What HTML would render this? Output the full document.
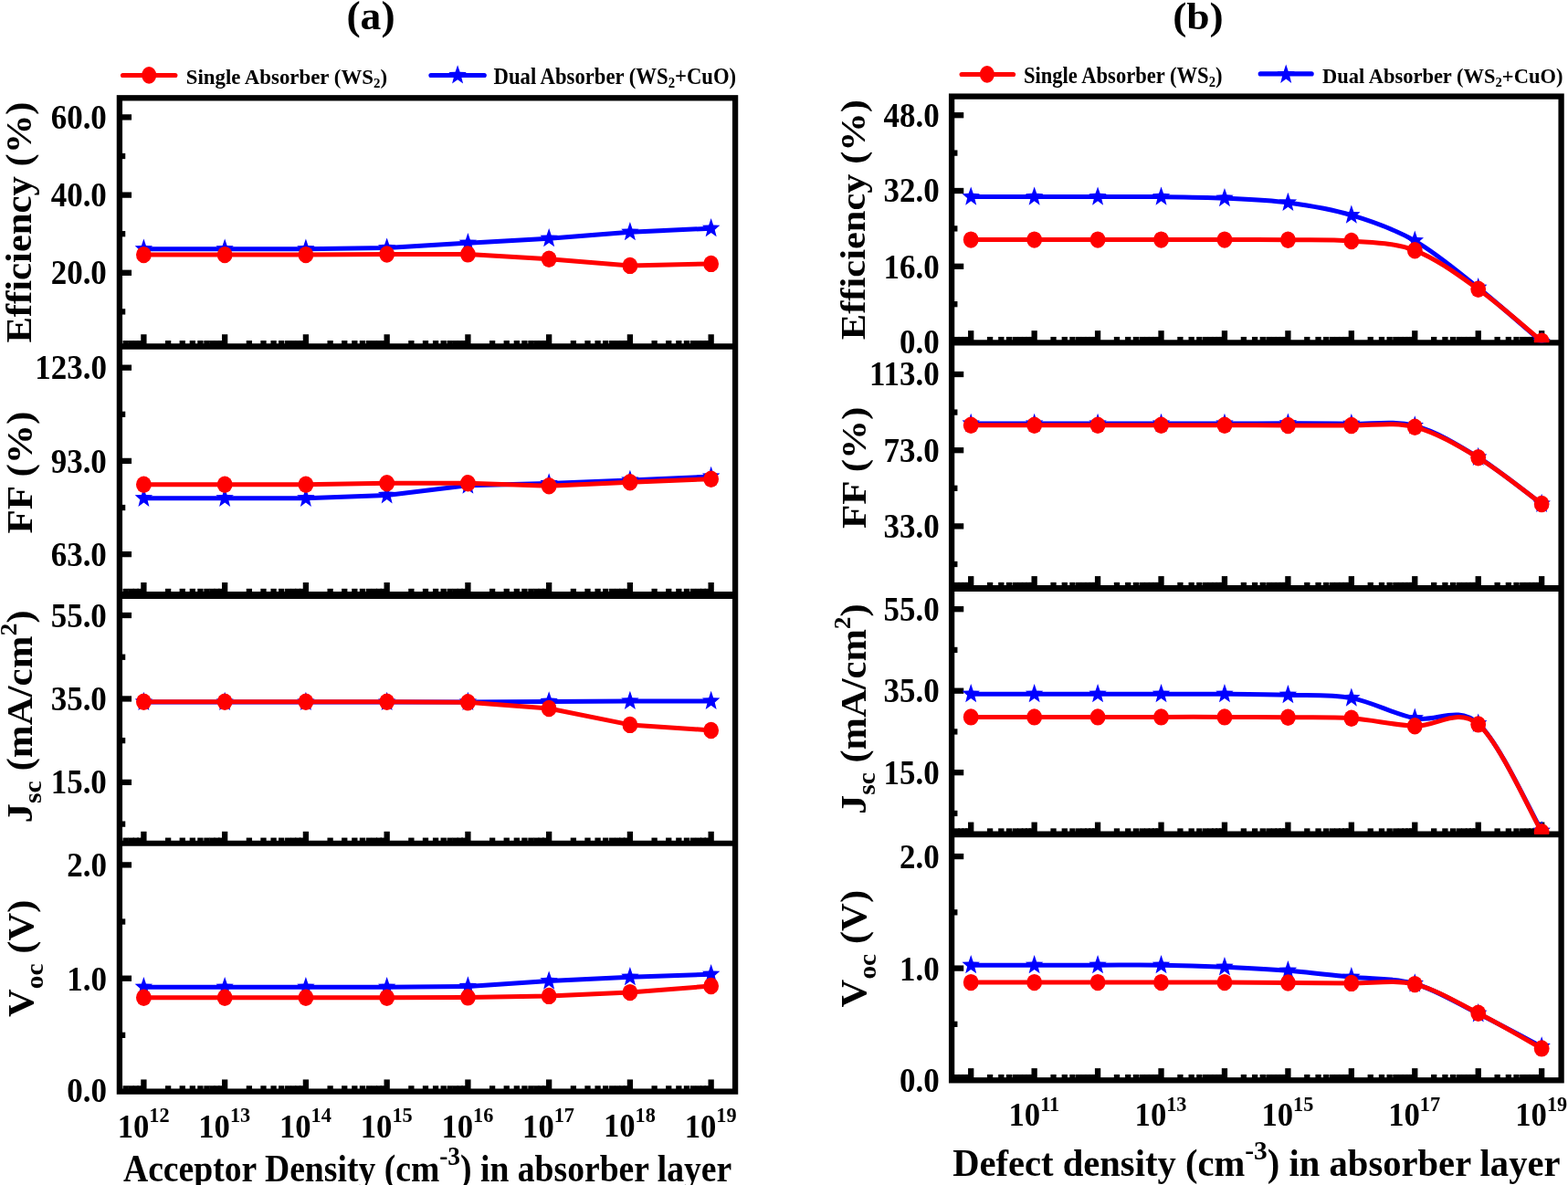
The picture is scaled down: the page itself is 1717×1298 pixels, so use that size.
<!DOCTYPE html>
<html><head><meta charset="utf-8"><title>Figure</title>
<style>
html,body{margin:0;padding:0;background:#fff;overflow:hidden;width:1717px;height:1298px;}
svg{display:block;}
text{font-family:'Liberation Serif', 'Times New Roman', serif;font-weight:bold;fill:#000;}
</style></head><body>
<svg width="1717" height="1298" viewBox="0 0 1717 1298">
<rect width="1717" height="1298" fill="#fff"/>
<g id="axes" fill="#000">
<rect x="130.90" y="107.30" width="674.20" height="1088.30" fill="none" stroke="#000" stroke-width="6.30"/>
<line x1="130.90" y1="379.50" x2="805.10" y2="379.50" stroke="#000" stroke-width="6.50"/>
<line x1="130.90" y1="652.00" x2="805.10" y2="652.00" stroke="#000" stroke-width="8.00"/>
<line x1="130.90" y1="923.80" x2="805.10" y2="923.80" stroke="#000" stroke-width="6.00"/>
<rect x="134.56" y="373.05" width="6.30" height="4.20"/>
<rect x="140.50" y="373.05" width="6.30" height="4.20"/>
<rect x="145.65" y="373.05" width="6.30" height="4.20"/>
<rect x="150.19" y="373.05" width="6.30" height="4.20"/>
<rect x="154.25" y="366.25" width="6.30" height="11.00"/>
<rect x="180.97" y="373.05" width="6.30" height="4.20"/>
<rect x="196.59" y="373.05" width="6.30" height="4.20"/>
<rect x="207.68" y="373.05" width="6.30" height="4.20"/>
<rect x="216.28" y="373.05" width="6.30" height="4.20"/>
<rect x="223.31" y="373.05" width="6.30" height="4.20"/>
<rect x="229.25" y="373.05" width="6.30" height="4.20"/>
<rect x="234.40" y="373.05" width="6.30" height="4.20"/>
<rect x="238.94" y="373.05" width="6.30" height="4.20"/>
<rect x="243.00" y="366.25" width="6.30" height="11.00"/>
<rect x="269.72" y="373.05" width="6.30" height="4.20"/>
<rect x="285.34" y="373.05" width="6.30" height="4.20"/>
<rect x="296.43" y="373.05" width="6.30" height="4.20"/>
<rect x="305.03" y="373.05" width="6.30" height="4.20"/>
<rect x="312.06" y="373.05" width="6.30" height="4.20"/>
<rect x="318.00" y="373.05" width="6.30" height="4.20"/>
<rect x="323.15" y="373.05" width="6.30" height="4.20"/>
<rect x="327.69" y="373.05" width="6.30" height="4.20"/>
<rect x="331.75" y="366.25" width="6.30" height="11.00"/>
<rect x="358.47" y="373.05" width="6.30" height="4.20"/>
<rect x="374.09" y="373.05" width="6.30" height="4.20"/>
<rect x="385.18" y="373.05" width="6.30" height="4.20"/>
<rect x="393.78" y="373.05" width="6.30" height="4.20"/>
<rect x="400.81" y="373.05" width="6.30" height="4.20"/>
<rect x="406.75" y="373.05" width="6.30" height="4.20"/>
<rect x="411.90" y="373.05" width="6.30" height="4.20"/>
<rect x="416.44" y="373.05" width="6.30" height="4.20"/>
<rect x="420.50" y="366.25" width="6.30" height="11.00"/>
<rect x="447.22" y="373.05" width="6.30" height="4.20"/>
<rect x="462.84" y="373.05" width="6.30" height="4.20"/>
<rect x="473.93" y="373.05" width="6.30" height="4.20"/>
<rect x="482.53" y="373.05" width="6.30" height="4.20"/>
<rect x="489.56" y="373.05" width="6.30" height="4.20"/>
<rect x="495.50" y="373.05" width="6.30" height="4.20"/>
<rect x="500.65" y="373.05" width="6.30" height="4.20"/>
<rect x="505.19" y="373.05" width="6.30" height="4.20"/>
<rect x="509.25" y="366.25" width="6.30" height="11.00"/>
<rect x="535.97" y="373.05" width="6.30" height="4.20"/>
<rect x="551.59" y="373.05" width="6.30" height="4.20"/>
<rect x="562.68" y="373.05" width="6.30" height="4.20"/>
<rect x="571.28" y="373.05" width="6.30" height="4.20"/>
<rect x="578.31" y="373.05" width="6.30" height="4.20"/>
<rect x="584.25" y="373.05" width="6.30" height="4.20"/>
<rect x="589.40" y="373.05" width="6.30" height="4.20"/>
<rect x="593.94" y="373.05" width="6.30" height="4.20"/>
<rect x="598.00" y="366.25" width="6.30" height="11.00"/>
<rect x="624.72" y="373.05" width="6.30" height="4.20"/>
<rect x="640.34" y="373.05" width="6.30" height="4.20"/>
<rect x="651.43" y="373.05" width="6.30" height="4.20"/>
<rect x="660.03" y="373.05" width="6.30" height="4.20"/>
<rect x="667.06" y="373.05" width="6.30" height="4.20"/>
<rect x="673.00" y="373.05" width="6.30" height="4.20"/>
<rect x="678.15" y="373.05" width="6.30" height="4.20"/>
<rect x="682.69" y="373.05" width="6.30" height="4.20"/>
<rect x="686.75" y="366.25" width="6.30" height="11.00"/>
<rect x="713.47" y="373.05" width="6.30" height="4.20"/>
<rect x="729.09" y="373.05" width="6.30" height="4.20"/>
<rect x="740.18" y="373.05" width="6.30" height="4.20"/>
<rect x="748.78" y="373.05" width="6.30" height="4.20"/>
<rect x="755.81" y="373.05" width="6.30" height="4.20"/>
<rect x="761.75" y="373.05" width="6.30" height="4.20"/>
<rect x="766.90" y="373.05" width="6.30" height="4.20"/>
<rect x="771.44" y="373.05" width="6.30" height="4.20"/>
<rect x="775.50" y="366.25" width="6.30" height="11.00"/>
<rect x="134.56" y="644.80" width="6.30" height="4.20"/>
<rect x="140.50" y="644.80" width="6.30" height="4.20"/>
<rect x="145.65" y="644.80" width="6.30" height="4.20"/>
<rect x="150.19" y="644.80" width="6.30" height="4.20"/>
<rect x="154.25" y="638.00" width="6.30" height="11.00"/>
<rect x="180.97" y="644.80" width="6.30" height="4.20"/>
<rect x="196.59" y="644.80" width="6.30" height="4.20"/>
<rect x="207.68" y="644.80" width="6.30" height="4.20"/>
<rect x="216.28" y="644.80" width="6.30" height="4.20"/>
<rect x="223.31" y="644.80" width="6.30" height="4.20"/>
<rect x="229.25" y="644.80" width="6.30" height="4.20"/>
<rect x="234.40" y="644.80" width="6.30" height="4.20"/>
<rect x="238.94" y="644.80" width="6.30" height="4.20"/>
<rect x="243.00" y="638.00" width="6.30" height="11.00"/>
<rect x="269.72" y="644.80" width="6.30" height="4.20"/>
<rect x="285.34" y="644.80" width="6.30" height="4.20"/>
<rect x="296.43" y="644.80" width="6.30" height="4.20"/>
<rect x="305.03" y="644.80" width="6.30" height="4.20"/>
<rect x="312.06" y="644.80" width="6.30" height="4.20"/>
<rect x="318.00" y="644.80" width="6.30" height="4.20"/>
<rect x="323.15" y="644.80" width="6.30" height="4.20"/>
<rect x="327.69" y="644.80" width="6.30" height="4.20"/>
<rect x="331.75" y="638.00" width="6.30" height="11.00"/>
<rect x="358.47" y="644.80" width="6.30" height="4.20"/>
<rect x="374.09" y="644.80" width="6.30" height="4.20"/>
<rect x="385.18" y="644.80" width="6.30" height="4.20"/>
<rect x="393.78" y="644.80" width="6.30" height="4.20"/>
<rect x="400.81" y="644.80" width="6.30" height="4.20"/>
<rect x="406.75" y="644.80" width="6.30" height="4.20"/>
<rect x="411.90" y="644.80" width="6.30" height="4.20"/>
<rect x="416.44" y="644.80" width="6.30" height="4.20"/>
<rect x="420.50" y="638.00" width="6.30" height="11.00"/>
<rect x="447.22" y="644.80" width="6.30" height="4.20"/>
<rect x="462.84" y="644.80" width="6.30" height="4.20"/>
<rect x="473.93" y="644.80" width="6.30" height="4.20"/>
<rect x="482.53" y="644.80" width="6.30" height="4.20"/>
<rect x="489.56" y="644.80" width="6.30" height="4.20"/>
<rect x="495.50" y="644.80" width="6.30" height="4.20"/>
<rect x="500.65" y="644.80" width="6.30" height="4.20"/>
<rect x="505.19" y="644.80" width="6.30" height="4.20"/>
<rect x="509.25" y="638.00" width="6.30" height="11.00"/>
<rect x="535.97" y="644.80" width="6.30" height="4.20"/>
<rect x="551.59" y="644.80" width="6.30" height="4.20"/>
<rect x="562.68" y="644.80" width="6.30" height="4.20"/>
<rect x="571.28" y="644.80" width="6.30" height="4.20"/>
<rect x="578.31" y="644.80" width="6.30" height="4.20"/>
<rect x="584.25" y="644.80" width="6.30" height="4.20"/>
<rect x="589.40" y="644.80" width="6.30" height="4.20"/>
<rect x="593.94" y="644.80" width="6.30" height="4.20"/>
<rect x="598.00" y="638.00" width="6.30" height="11.00"/>
<rect x="624.72" y="644.80" width="6.30" height="4.20"/>
<rect x="640.34" y="644.80" width="6.30" height="4.20"/>
<rect x="651.43" y="644.80" width="6.30" height="4.20"/>
<rect x="660.03" y="644.80" width="6.30" height="4.20"/>
<rect x="667.06" y="644.80" width="6.30" height="4.20"/>
<rect x="673.00" y="644.80" width="6.30" height="4.20"/>
<rect x="678.15" y="644.80" width="6.30" height="4.20"/>
<rect x="682.69" y="644.80" width="6.30" height="4.20"/>
<rect x="686.75" y="638.00" width="6.30" height="11.00"/>
<rect x="713.47" y="644.80" width="6.30" height="4.20"/>
<rect x="729.09" y="644.80" width="6.30" height="4.20"/>
<rect x="740.18" y="644.80" width="6.30" height="4.20"/>
<rect x="748.78" y="644.80" width="6.30" height="4.20"/>
<rect x="755.81" y="644.80" width="6.30" height="4.20"/>
<rect x="761.75" y="644.80" width="6.30" height="4.20"/>
<rect x="766.90" y="644.80" width="6.30" height="4.20"/>
<rect x="771.44" y="644.80" width="6.30" height="4.20"/>
<rect x="775.50" y="638.00" width="6.30" height="11.00"/>
<rect x="134.56" y="917.60" width="6.30" height="4.20"/>
<rect x="140.50" y="917.60" width="6.30" height="4.20"/>
<rect x="145.65" y="917.60" width="6.30" height="4.20"/>
<rect x="150.19" y="917.60" width="6.30" height="4.20"/>
<rect x="154.25" y="910.80" width="6.30" height="11.00"/>
<rect x="180.97" y="917.60" width="6.30" height="4.20"/>
<rect x="196.59" y="917.60" width="6.30" height="4.20"/>
<rect x="207.68" y="917.60" width="6.30" height="4.20"/>
<rect x="216.28" y="917.60" width="6.30" height="4.20"/>
<rect x="223.31" y="917.60" width="6.30" height="4.20"/>
<rect x="229.25" y="917.60" width="6.30" height="4.20"/>
<rect x="234.40" y="917.60" width="6.30" height="4.20"/>
<rect x="238.94" y="917.60" width="6.30" height="4.20"/>
<rect x="243.00" y="910.80" width="6.30" height="11.00"/>
<rect x="269.72" y="917.60" width="6.30" height="4.20"/>
<rect x="285.34" y="917.60" width="6.30" height="4.20"/>
<rect x="296.43" y="917.60" width="6.30" height="4.20"/>
<rect x="305.03" y="917.60" width="6.30" height="4.20"/>
<rect x="312.06" y="917.60" width="6.30" height="4.20"/>
<rect x="318.00" y="917.60" width="6.30" height="4.20"/>
<rect x="323.15" y="917.60" width="6.30" height="4.20"/>
<rect x="327.69" y="917.60" width="6.30" height="4.20"/>
<rect x="331.75" y="910.80" width="6.30" height="11.00"/>
<rect x="358.47" y="917.60" width="6.30" height="4.20"/>
<rect x="374.09" y="917.60" width="6.30" height="4.20"/>
<rect x="385.18" y="917.60" width="6.30" height="4.20"/>
<rect x="393.78" y="917.60" width="6.30" height="4.20"/>
<rect x="400.81" y="917.60" width="6.30" height="4.20"/>
<rect x="406.75" y="917.60" width="6.30" height="4.20"/>
<rect x="411.90" y="917.60" width="6.30" height="4.20"/>
<rect x="416.44" y="917.60" width="6.30" height="4.20"/>
<rect x="420.50" y="910.80" width="6.30" height="11.00"/>
<rect x="447.22" y="917.60" width="6.30" height="4.20"/>
<rect x="462.84" y="917.60" width="6.30" height="4.20"/>
<rect x="473.93" y="917.60" width="6.30" height="4.20"/>
<rect x="482.53" y="917.60" width="6.30" height="4.20"/>
<rect x="489.56" y="917.60" width="6.30" height="4.20"/>
<rect x="495.50" y="917.60" width="6.30" height="4.20"/>
<rect x="500.65" y="917.60" width="6.30" height="4.20"/>
<rect x="505.19" y="917.60" width="6.30" height="4.20"/>
<rect x="509.25" y="910.80" width="6.30" height="11.00"/>
<rect x="535.97" y="917.60" width="6.30" height="4.20"/>
<rect x="551.59" y="917.60" width="6.30" height="4.20"/>
<rect x="562.68" y="917.60" width="6.30" height="4.20"/>
<rect x="571.28" y="917.60" width="6.30" height="4.20"/>
<rect x="578.31" y="917.60" width="6.30" height="4.20"/>
<rect x="584.25" y="917.60" width="6.30" height="4.20"/>
<rect x="589.40" y="917.60" width="6.30" height="4.20"/>
<rect x="593.94" y="917.60" width="6.30" height="4.20"/>
<rect x="598.00" y="910.80" width="6.30" height="11.00"/>
<rect x="624.72" y="917.60" width="6.30" height="4.20"/>
<rect x="640.34" y="917.60" width="6.30" height="4.20"/>
<rect x="651.43" y="917.60" width="6.30" height="4.20"/>
<rect x="660.03" y="917.60" width="6.30" height="4.20"/>
<rect x="667.06" y="917.60" width="6.30" height="4.20"/>
<rect x="673.00" y="917.60" width="6.30" height="4.20"/>
<rect x="678.15" y="917.60" width="6.30" height="4.20"/>
<rect x="682.69" y="917.60" width="6.30" height="4.20"/>
<rect x="686.75" y="910.80" width="6.30" height="11.00"/>
<rect x="713.47" y="917.60" width="6.30" height="4.20"/>
<rect x="729.09" y="917.60" width="6.30" height="4.20"/>
<rect x="740.18" y="917.60" width="6.30" height="4.20"/>
<rect x="748.78" y="917.60" width="6.30" height="4.20"/>
<rect x="755.81" y="917.60" width="6.30" height="4.20"/>
<rect x="761.75" y="917.60" width="6.30" height="4.20"/>
<rect x="766.90" y="917.60" width="6.30" height="4.20"/>
<rect x="771.44" y="917.60" width="6.30" height="4.20"/>
<rect x="775.50" y="910.80" width="6.30" height="11.00"/>
<rect x="134.56" y="1189.25" width="6.30" height="4.20"/>
<rect x="140.50" y="1189.25" width="6.30" height="4.20"/>
<rect x="145.65" y="1189.25" width="6.30" height="4.20"/>
<rect x="150.19" y="1189.25" width="6.30" height="4.20"/>
<rect x="154.25" y="1182.45" width="6.30" height="11.00"/>
<rect x="180.97" y="1189.25" width="6.30" height="4.20"/>
<rect x="196.59" y="1189.25" width="6.30" height="4.20"/>
<rect x="207.68" y="1189.25" width="6.30" height="4.20"/>
<rect x="216.28" y="1189.25" width="6.30" height="4.20"/>
<rect x="223.31" y="1189.25" width="6.30" height="4.20"/>
<rect x="229.25" y="1189.25" width="6.30" height="4.20"/>
<rect x="234.40" y="1189.25" width="6.30" height="4.20"/>
<rect x="238.94" y="1189.25" width="6.30" height="4.20"/>
<rect x="243.00" y="1182.45" width="6.30" height="11.00"/>
<rect x="269.72" y="1189.25" width="6.30" height="4.20"/>
<rect x="285.34" y="1189.25" width="6.30" height="4.20"/>
<rect x="296.43" y="1189.25" width="6.30" height="4.20"/>
<rect x="305.03" y="1189.25" width="6.30" height="4.20"/>
<rect x="312.06" y="1189.25" width="6.30" height="4.20"/>
<rect x="318.00" y="1189.25" width="6.30" height="4.20"/>
<rect x="323.15" y="1189.25" width="6.30" height="4.20"/>
<rect x="327.69" y="1189.25" width="6.30" height="4.20"/>
<rect x="331.75" y="1182.45" width="6.30" height="11.00"/>
<rect x="358.47" y="1189.25" width="6.30" height="4.20"/>
<rect x="374.09" y="1189.25" width="6.30" height="4.20"/>
<rect x="385.18" y="1189.25" width="6.30" height="4.20"/>
<rect x="393.78" y="1189.25" width="6.30" height="4.20"/>
<rect x="400.81" y="1189.25" width="6.30" height="4.20"/>
<rect x="406.75" y="1189.25" width="6.30" height="4.20"/>
<rect x="411.90" y="1189.25" width="6.30" height="4.20"/>
<rect x="416.44" y="1189.25" width="6.30" height="4.20"/>
<rect x="420.50" y="1182.45" width="6.30" height="11.00"/>
<rect x="447.22" y="1189.25" width="6.30" height="4.20"/>
<rect x="462.84" y="1189.25" width="6.30" height="4.20"/>
<rect x="473.93" y="1189.25" width="6.30" height="4.20"/>
<rect x="482.53" y="1189.25" width="6.30" height="4.20"/>
<rect x="489.56" y="1189.25" width="6.30" height="4.20"/>
<rect x="495.50" y="1189.25" width="6.30" height="4.20"/>
<rect x="500.65" y="1189.25" width="6.30" height="4.20"/>
<rect x="505.19" y="1189.25" width="6.30" height="4.20"/>
<rect x="509.25" y="1182.45" width="6.30" height="11.00"/>
<rect x="535.97" y="1189.25" width="6.30" height="4.20"/>
<rect x="551.59" y="1189.25" width="6.30" height="4.20"/>
<rect x="562.68" y="1189.25" width="6.30" height="4.20"/>
<rect x="571.28" y="1189.25" width="6.30" height="4.20"/>
<rect x="578.31" y="1189.25" width="6.30" height="4.20"/>
<rect x="584.25" y="1189.25" width="6.30" height="4.20"/>
<rect x="589.40" y="1189.25" width="6.30" height="4.20"/>
<rect x="593.94" y="1189.25" width="6.30" height="4.20"/>
<rect x="598.00" y="1182.45" width="6.30" height="11.00"/>
<rect x="624.72" y="1189.25" width="6.30" height="4.20"/>
<rect x="640.34" y="1189.25" width="6.30" height="4.20"/>
<rect x="651.43" y="1189.25" width="6.30" height="4.20"/>
<rect x="660.03" y="1189.25" width="6.30" height="4.20"/>
<rect x="667.06" y="1189.25" width="6.30" height="4.20"/>
<rect x="673.00" y="1189.25" width="6.30" height="4.20"/>
<rect x="678.15" y="1189.25" width="6.30" height="4.20"/>
<rect x="682.69" y="1189.25" width="6.30" height="4.20"/>
<rect x="686.75" y="1182.45" width="6.30" height="11.00"/>
<rect x="713.47" y="1189.25" width="6.30" height="4.20"/>
<rect x="729.09" y="1189.25" width="6.30" height="4.20"/>
<rect x="740.18" y="1189.25" width="6.30" height="4.20"/>
<rect x="748.78" y="1189.25" width="6.30" height="4.20"/>
<rect x="755.81" y="1189.25" width="6.30" height="4.20"/>
<rect x="761.75" y="1189.25" width="6.30" height="4.20"/>
<rect x="766.90" y="1189.25" width="6.30" height="4.20"/>
<rect x="771.44" y="1189.25" width="6.30" height="4.20"/>
<rect x="775.50" y="1182.45" width="6.30" height="11.00"/>
<rect x="133.05" y="125.25" width="11.00" height="6.30"/>
<rect x="133.05" y="210.45" width="11.00" height="6.30"/>
<rect x="133.05" y="295.65" width="11.00" height="6.30"/>
<rect x="133.05" y="167.85" width="4.20" height="6.30"/>
<rect x="133.05" y="253.05" width="4.20" height="6.30"/>
<rect x="133.05" y="338.25" width="4.20" height="6.30"/>
<rect x="133.05" y="399.55" width="11.00" height="6.30"/>
<rect x="133.05" y="501.76" width="11.00" height="6.30"/>
<rect x="133.05" y="603.97" width="11.00" height="6.30"/>
<rect x="133.05" y="450.66" width="4.20" height="6.30"/>
<rect x="133.05" y="552.87" width="4.20" height="6.30"/>
<rect x="133.05" y="670.85" width="11.00" height="6.30"/>
<rect x="133.05" y="762.30" width="11.00" height="6.30"/>
<rect x="133.05" y="853.75" width="11.00" height="6.30"/>
<rect x="133.05" y="716.58" width="4.20" height="6.30"/>
<rect x="133.05" y="808.02" width="4.20" height="6.30"/>
<rect x="133.05" y="899.48" width="4.20" height="6.30"/>
<rect x="133.05" y="944.25" width="11.00" height="6.30"/>
<rect x="133.05" y="1068.55" width="11.00" height="6.30"/>
<rect x="133.05" y="1006.40" width="4.20" height="6.30"/>
<rect x="133.05" y="1130.70" width="4.20" height="6.30"/>
<rect x="1042.10" y="105.60" width="667.50" height="1077.70" fill="none" stroke="#000" stroke-width="6.30"/>
<line x1="1042.10" y1="375.30" x2="1709.60" y2="375.30" stroke="#000" stroke-width="6.30"/>
<line x1="1042.10" y1="644.50" x2="1709.60" y2="644.50" stroke="#000" stroke-width="6.80"/>
<line x1="1042.10" y1="913.90" x2="1709.60" y2="913.90" stroke="#000" stroke-width="6.70"/>
<rect x="1044.64" y="368.95" width="6.30" height="4.20"/>
<rect x="1049.29" y="368.95" width="6.30" height="4.20"/>
<rect x="1053.32" y="368.95" width="6.30" height="4.20"/>
<rect x="1056.87" y="368.95" width="6.30" height="4.20"/>
<rect x="1060.05" y="362.15" width="6.30" height="11.00"/>
<rect x="1080.95" y="368.95" width="6.30" height="4.20"/>
<rect x="1093.18" y="368.95" width="6.30" height="4.20"/>
<rect x="1101.86" y="368.95" width="6.30" height="4.20"/>
<rect x="1108.59" y="368.95" width="6.30" height="4.20"/>
<rect x="1114.08" y="368.95" width="6.30" height="4.20"/>
<rect x="1118.73" y="368.95" width="6.30" height="4.20"/>
<rect x="1122.76" y="368.95" width="6.30" height="4.20"/>
<rect x="1126.31" y="368.95" width="6.30" height="4.20"/>
<rect x="1129.49" y="362.15" width="6.30" height="11.00"/>
<rect x="1150.39" y="368.95" width="6.30" height="4.20"/>
<rect x="1162.62" y="368.95" width="6.30" height="4.20"/>
<rect x="1171.30" y="368.95" width="6.30" height="4.20"/>
<rect x="1178.03" y="368.95" width="6.30" height="4.20"/>
<rect x="1183.52" y="368.95" width="6.30" height="4.20"/>
<rect x="1188.17" y="368.95" width="6.30" height="4.20"/>
<rect x="1192.20" y="368.95" width="6.30" height="4.20"/>
<rect x="1195.75" y="368.95" width="6.30" height="4.20"/>
<rect x="1198.93" y="362.15" width="6.30" height="11.00"/>
<rect x="1219.83" y="368.95" width="6.30" height="4.20"/>
<rect x="1232.06" y="368.95" width="6.30" height="4.20"/>
<rect x="1240.74" y="368.95" width="6.30" height="4.20"/>
<rect x="1247.47" y="368.95" width="6.30" height="4.20"/>
<rect x="1252.96" y="368.95" width="6.30" height="4.20"/>
<rect x="1257.61" y="368.95" width="6.30" height="4.20"/>
<rect x="1261.64" y="368.95" width="6.30" height="4.20"/>
<rect x="1265.19" y="368.95" width="6.30" height="4.20"/>
<rect x="1268.37" y="362.15" width="6.30" height="11.00"/>
<rect x="1289.27" y="368.95" width="6.30" height="4.20"/>
<rect x="1301.50" y="368.95" width="6.30" height="4.20"/>
<rect x="1310.18" y="368.95" width="6.30" height="4.20"/>
<rect x="1316.91" y="368.95" width="6.30" height="4.20"/>
<rect x="1322.40" y="368.95" width="6.30" height="4.20"/>
<rect x="1327.05" y="368.95" width="6.30" height="4.20"/>
<rect x="1331.08" y="368.95" width="6.30" height="4.20"/>
<rect x="1334.63" y="368.95" width="6.30" height="4.20"/>
<rect x="1337.81" y="362.15" width="6.30" height="11.00"/>
<rect x="1358.71" y="368.95" width="6.30" height="4.20"/>
<rect x="1370.94" y="368.95" width="6.30" height="4.20"/>
<rect x="1379.62" y="368.95" width="6.30" height="4.20"/>
<rect x="1386.35" y="368.95" width="6.30" height="4.20"/>
<rect x="1391.84" y="368.95" width="6.30" height="4.20"/>
<rect x="1396.49" y="368.95" width="6.30" height="4.20"/>
<rect x="1400.52" y="368.95" width="6.30" height="4.20"/>
<rect x="1404.07" y="368.95" width="6.30" height="4.20"/>
<rect x="1407.25" y="362.15" width="6.30" height="11.00"/>
<rect x="1428.15" y="368.95" width="6.30" height="4.20"/>
<rect x="1440.38" y="368.95" width="6.30" height="4.20"/>
<rect x="1449.06" y="368.95" width="6.30" height="4.20"/>
<rect x="1455.79" y="368.95" width="6.30" height="4.20"/>
<rect x="1461.28" y="368.95" width="6.30" height="4.20"/>
<rect x="1465.93" y="368.95" width="6.30" height="4.20"/>
<rect x="1469.96" y="368.95" width="6.30" height="4.20"/>
<rect x="1473.51" y="368.95" width="6.30" height="4.20"/>
<rect x="1476.69" y="362.15" width="6.30" height="11.00"/>
<rect x="1497.59" y="368.95" width="6.30" height="4.20"/>
<rect x="1509.82" y="368.95" width="6.30" height="4.20"/>
<rect x="1518.50" y="368.95" width="6.30" height="4.20"/>
<rect x="1525.23" y="368.95" width="6.30" height="4.20"/>
<rect x="1530.72" y="368.95" width="6.30" height="4.20"/>
<rect x="1535.37" y="368.95" width="6.30" height="4.20"/>
<rect x="1539.40" y="368.95" width="6.30" height="4.20"/>
<rect x="1542.95" y="368.95" width="6.30" height="4.20"/>
<rect x="1546.13" y="362.15" width="6.30" height="11.00"/>
<rect x="1567.03" y="368.95" width="6.30" height="4.20"/>
<rect x="1579.26" y="368.95" width="6.30" height="4.20"/>
<rect x="1587.94" y="368.95" width="6.30" height="4.20"/>
<rect x="1594.67" y="368.95" width="6.30" height="4.20"/>
<rect x="1600.16" y="368.95" width="6.30" height="4.20"/>
<rect x="1604.81" y="368.95" width="6.30" height="4.20"/>
<rect x="1608.84" y="368.95" width="6.30" height="4.20"/>
<rect x="1612.39" y="368.95" width="6.30" height="4.20"/>
<rect x="1615.57" y="362.15" width="6.30" height="11.00"/>
<rect x="1636.47" y="368.95" width="6.30" height="4.20"/>
<rect x="1648.70" y="368.95" width="6.30" height="4.20"/>
<rect x="1657.38" y="368.95" width="6.30" height="4.20"/>
<rect x="1664.11" y="368.95" width="6.30" height="4.20"/>
<rect x="1669.60" y="368.95" width="6.30" height="4.20"/>
<rect x="1674.25" y="368.95" width="6.30" height="4.20"/>
<rect x="1678.28" y="368.95" width="6.30" height="4.20"/>
<rect x="1681.83" y="368.95" width="6.30" height="4.20"/>
<rect x="1685.01" y="362.15" width="6.30" height="11.00"/>
<rect x="1044.64" y="637.90" width="6.30" height="4.20"/>
<rect x="1049.29" y="637.90" width="6.30" height="4.20"/>
<rect x="1053.32" y="637.90" width="6.30" height="4.20"/>
<rect x="1056.87" y="637.90" width="6.30" height="4.20"/>
<rect x="1060.05" y="631.10" width="6.30" height="11.00"/>
<rect x="1080.95" y="637.90" width="6.30" height="4.20"/>
<rect x="1093.18" y="637.90" width="6.30" height="4.20"/>
<rect x="1101.86" y="637.90" width="6.30" height="4.20"/>
<rect x="1108.59" y="637.90" width="6.30" height="4.20"/>
<rect x="1114.08" y="637.90" width="6.30" height="4.20"/>
<rect x="1118.73" y="637.90" width="6.30" height="4.20"/>
<rect x="1122.76" y="637.90" width="6.30" height="4.20"/>
<rect x="1126.31" y="637.90" width="6.30" height="4.20"/>
<rect x="1129.49" y="631.10" width="6.30" height="11.00"/>
<rect x="1150.39" y="637.90" width="6.30" height="4.20"/>
<rect x="1162.62" y="637.90" width="6.30" height="4.20"/>
<rect x="1171.30" y="637.90" width="6.30" height="4.20"/>
<rect x="1178.03" y="637.90" width="6.30" height="4.20"/>
<rect x="1183.52" y="637.90" width="6.30" height="4.20"/>
<rect x="1188.17" y="637.90" width="6.30" height="4.20"/>
<rect x="1192.20" y="637.90" width="6.30" height="4.20"/>
<rect x="1195.75" y="637.90" width="6.30" height="4.20"/>
<rect x="1198.93" y="631.10" width="6.30" height="11.00"/>
<rect x="1219.83" y="637.90" width="6.30" height="4.20"/>
<rect x="1232.06" y="637.90" width="6.30" height="4.20"/>
<rect x="1240.74" y="637.90" width="6.30" height="4.20"/>
<rect x="1247.47" y="637.90" width="6.30" height="4.20"/>
<rect x="1252.96" y="637.90" width="6.30" height="4.20"/>
<rect x="1257.61" y="637.90" width="6.30" height="4.20"/>
<rect x="1261.64" y="637.90" width="6.30" height="4.20"/>
<rect x="1265.19" y="637.90" width="6.30" height="4.20"/>
<rect x="1268.37" y="631.10" width="6.30" height="11.00"/>
<rect x="1289.27" y="637.90" width="6.30" height="4.20"/>
<rect x="1301.50" y="637.90" width="6.30" height="4.20"/>
<rect x="1310.18" y="637.90" width="6.30" height="4.20"/>
<rect x="1316.91" y="637.90" width="6.30" height="4.20"/>
<rect x="1322.40" y="637.90" width="6.30" height="4.20"/>
<rect x="1327.05" y="637.90" width="6.30" height="4.20"/>
<rect x="1331.08" y="637.90" width="6.30" height="4.20"/>
<rect x="1334.63" y="637.90" width="6.30" height="4.20"/>
<rect x="1337.81" y="631.10" width="6.30" height="11.00"/>
<rect x="1358.71" y="637.90" width="6.30" height="4.20"/>
<rect x="1370.94" y="637.90" width="6.30" height="4.20"/>
<rect x="1379.62" y="637.90" width="6.30" height="4.20"/>
<rect x="1386.35" y="637.90" width="6.30" height="4.20"/>
<rect x="1391.84" y="637.90" width="6.30" height="4.20"/>
<rect x="1396.49" y="637.90" width="6.30" height="4.20"/>
<rect x="1400.52" y="637.90" width="6.30" height="4.20"/>
<rect x="1404.07" y="637.90" width="6.30" height="4.20"/>
<rect x="1407.25" y="631.10" width="6.30" height="11.00"/>
<rect x="1428.15" y="637.90" width="6.30" height="4.20"/>
<rect x="1440.38" y="637.90" width="6.30" height="4.20"/>
<rect x="1449.06" y="637.90" width="6.30" height="4.20"/>
<rect x="1455.79" y="637.90" width="6.30" height="4.20"/>
<rect x="1461.28" y="637.90" width="6.30" height="4.20"/>
<rect x="1465.93" y="637.90" width="6.30" height="4.20"/>
<rect x="1469.96" y="637.90" width="6.30" height="4.20"/>
<rect x="1473.51" y="637.90" width="6.30" height="4.20"/>
<rect x="1476.69" y="631.10" width="6.30" height="11.00"/>
<rect x="1497.59" y="637.90" width="6.30" height="4.20"/>
<rect x="1509.82" y="637.90" width="6.30" height="4.20"/>
<rect x="1518.50" y="637.90" width="6.30" height="4.20"/>
<rect x="1525.23" y="637.90" width="6.30" height="4.20"/>
<rect x="1530.72" y="637.90" width="6.30" height="4.20"/>
<rect x="1535.37" y="637.90" width="6.30" height="4.20"/>
<rect x="1539.40" y="637.90" width="6.30" height="4.20"/>
<rect x="1542.95" y="637.90" width="6.30" height="4.20"/>
<rect x="1546.13" y="631.10" width="6.30" height="11.00"/>
<rect x="1567.03" y="637.90" width="6.30" height="4.20"/>
<rect x="1579.26" y="637.90" width="6.30" height="4.20"/>
<rect x="1587.94" y="637.90" width="6.30" height="4.20"/>
<rect x="1594.67" y="637.90" width="6.30" height="4.20"/>
<rect x="1600.16" y="637.90" width="6.30" height="4.20"/>
<rect x="1604.81" y="637.90" width="6.30" height="4.20"/>
<rect x="1608.84" y="637.90" width="6.30" height="4.20"/>
<rect x="1612.39" y="637.90" width="6.30" height="4.20"/>
<rect x="1615.57" y="631.10" width="6.30" height="11.00"/>
<rect x="1636.47" y="637.90" width="6.30" height="4.20"/>
<rect x="1648.70" y="637.90" width="6.30" height="4.20"/>
<rect x="1657.38" y="637.90" width="6.30" height="4.20"/>
<rect x="1664.11" y="637.90" width="6.30" height="4.20"/>
<rect x="1669.60" y="637.90" width="6.30" height="4.20"/>
<rect x="1674.25" y="637.90" width="6.30" height="4.20"/>
<rect x="1678.28" y="637.90" width="6.30" height="4.20"/>
<rect x="1681.83" y="637.90" width="6.30" height="4.20"/>
<rect x="1685.01" y="631.10" width="6.30" height="11.00"/>
<rect x="1044.64" y="907.35" width="6.30" height="4.20"/>
<rect x="1049.29" y="907.35" width="6.30" height="4.20"/>
<rect x="1053.32" y="907.35" width="6.30" height="4.20"/>
<rect x="1056.87" y="907.35" width="6.30" height="4.20"/>
<rect x="1060.05" y="900.55" width="6.30" height="11.00"/>
<rect x="1080.95" y="907.35" width="6.30" height="4.20"/>
<rect x="1093.18" y="907.35" width="6.30" height="4.20"/>
<rect x="1101.86" y="907.35" width="6.30" height="4.20"/>
<rect x="1108.59" y="907.35" width="6.30" height="4.20"/>
<rect x="1114.08" y="907.35" width="6.30" height="4.20"/>
<rect x="1118.73" y="907.35" width="6.30" height="4.20"/>
<rect x="1122.76" y="907.35" width="6.30" height="4.20"/>
<rect x="1126.31" y="907.35" width="6.30" height="4.20"/>
<rect x="1129.49" y="900.55" width="6.30" height="11.00"/>
<rect x="1150.39" y="907.35" width="6.30" height="4.20"/>
<rect x="1162.62" y="907.35" width="6.30" height="4.20"/>
<rect x="1171.30" y="907.35" width="6.30" height="4.20"/>
<rect x="1178.03" y="907.35" width="6.30" height="4.20"/>
<rect x="1183.52" y="907.35" width="6.30" height="4.20"/>
<rect x="1188.17" y="907.35" width="6.30" height="4.20"/>
<rect x="1192.20" y="907.35" width="6.30" height="4.20"/>
<rect x="1195.75" y="907.35" width="6.30" height="4.20"/>
<rect x="1198.93" y="900.55" width="6.30" height="11.00"/>
<rect x="1219.83" y="907.35" width="6.30" height="4.20"/>
<rect x="1232.06" y="907.35" width="6.30" height="4.20"/>
<rect x="1240.74" y="907.35" width="6.30" height="4.20"/>
<rect x="1247.47" y="907.35" width="6.30" height="4.20"/>
<rect x="1252.96" y="907.35" width="6.30" height="4.20"/>
<rect x="1257.61" y="907.35" width="6.30" height="4.20"/>
<rect x="1261.64" y="907.35" width="6.30" height="4.20"/>
<rect x="1265.19" y="907.35" width="6.30" height="4.20"/>
<rect x="1268.37" y="900.55" width="6.30" height="11.00"/>
<rect x="1289.27" y="907.35" width="6.30" height="4.20"/>
<rect x="1301.50" y="907.35" width="6.30" height="4.20"/>
<rect x="1310.18" y="907.35" width="6.30" height="4.20"/>
<rect x="1316.91" y="907.35" width="6.30" height="4.20"/>
<rect x="1322.40" y="907.35" width="6.30" height="4.20"/>
<rect x="1327.05" y="907.35" width="6.30" height="4.20"/>
<rect x="1331.08" y="907.35" width="6.30" height="4.20"/>
<rect x="1334.63" y="907.35" width="6.30" height="4.20"/>
<rect x="1337.81" y="900.55" width="6.30" height="11.00"/>
<rect x="1358.71" y="907.35" width="6.30" height="4.20"/>
<rect x="1370.94" y="907.35" width="6.30" height="4.20"/>
<rect x="1379.62" y="907.35" width="6.30" height="4.20"/>
<rect x="1386.35" y="907.35" width="6.30" height="4.20"/>
<rect x="1391.84" y="907.35" width="6.30" height="4.20"/>
<rect x="1396.49" y="907.35" width="6.30" height="4.20"/>
<rect x="1400.52" y="907.35" width="6.30" height="4.20"/>
<rect x="1404.07" y="907.35" width="6.30" height="4.20"/>
<rect x="1407.25" y="900.55" width="6.30" height="11.00"/>
<rect x="1428.15" y="907.35" width="6.30" height="4.20"/>
<rect x="1440.38" y="907.35" width="6.30" height="4.20"/>
<rect x="1449.06" y="907.35" width="6.30" height="4.20"/>
<rect x="1455.79" y="907.35" width="6.30" height="4.20"/>
<rect x="1461.28" y="907.35" width="6.30" height="4.20"/>
<rect x="1465.93" y="907.35" width="6.30" height="4.20"/>
<rect x="1469.96" y="907.35" width="6.30" height="4.20"/>
<rect x="1473.51" y="907.35" width="6.30" height="4.20"/>
<rect x="1476.69" y="900.55" width="6.30" height="11.00"/>
<rect x="1497.59" y="907.35" width="6.30" height="4.20"/>
<rect x="1509.82" y="907.35" width="6.30" height="4.20"/>
<rect x="1518.50" y="907.35" width="6.30" height="4.20"/>
<rect x="1525.23" y="907.35" width="6.30" height="4.20"/>
<rect x="1530.72" y="907.35" width="6.30" height="4.20"/>
<rect x="1535.37" y="907.35" width="6.30" height="4.20"/>
<rect x="1539.40" y="907.35" width="6.30" height="4.20"/>
<rect x="1542.95" y="907.35" width="6.30" height="4.20"/>
<rect x="1546.13" y="900.55" width="6.30" height="11.00"/>
<rect x="1567.03" y="907.35" width="6.30" height="4.20"/>
<rect x="1579.26" y="907.35" width="6.30" height="4.20"/>
<rect x="1587.94" y="907.35" width="6.30" height="4.20"/>
<rect x="1594.67" y="907.35" width="6.30" height="4.20"/>
<rect x="1600.16" y="907.35" width="6.30" height="4.20"/>
<rect x="1604.81" y="907.35" width="6.30" height="4.20"/>
<rect x="1608.84" y="907.35" width="6.30" height="4.20"/>
<rect x="1612.39" y="907.35" width="6.30" height="4.20"/>
<rect x="1615.57" y="900.55" width="6.30" height="11.00"/>
<rect x="1636.47" y="907.35" width="6.30" height="4.20"/>
<rect x="1648.70" y="907.35" width="6.30" height="4.20"/>
<rect x="1657.38" y="907.35" width="6.30" height="4.20"/>
<rect x="1664.11" y="907.35" width="6.30" height="4.20"/>
<rect x="1669.60" y="907.35" width="6.30" height="4.20"/>
<rect x="1674.25" y="907.35" width="6.30" height="4.20"/>
<rect x="1678.28" y="907.35" width="6.30" height="4.20"/>
<rect x="1681.83" y="907.35" width="6.30" height="4.20"/>
<rect x="1685.01" y="900.55" width="6.30" height="11.00"/>
<rect x="1044.64" y="1176.95" width="6.30" height="4.20"/>
<rect x="1049.29" y="1176.95" width="6.30" height="4.20"/>
<rect x="1053.32" y="1176.95" width="6.30" height="4.20"/>
<rect x="1056.87" y="1176.95" width="6.30" height="4.20"/>
<rect x="1060.05" y="1170.15" width="6.30" height="11.00"/>
<rect x="1080.95" y="1176.95" width="6.30" height="4.20"/>
<rect x="1093.18" y="1176.95" width="6.30" height="4.20"/>
<rect x="1101.86" y="1176.95" width="6.30" height="4.20"/>
<rect x="1108.59" y="1176.95" width="6.30" height="4.20"/>
<rect x="1114.08" y="1176.95" width="6.30" height="4.20"/>
<rect x="1118.73" y="1176.95" width="6.30" height="4.20"/>
<rect x="1122.76" y="1176.95" width="6.30" height="4.20"/>
<rect x="1126.31" y="1176.95" width="6.30" height="4.20"/>
<rect x="1129.49" y="1170.15" width="6.30" height="11.00"/>
<rect x="1150.39" y="1176.95" width="6.30" height="4.20"/>
<rect x="1162.62" y="1176.95" width="6.30" height="4.20"/>
<rect x="1171.30" y="1176.95" width="6.30" height="4.20"/>
<rect x="1178.03" y="1176.95" width="6.30" height="4.20"/>
<rect x="1183.52" y="1176.95" width="6.30" height="4.20"/>
<rect x="1188.17" y="1176.95" width="6.30" height="4.20"/>
<rect x="1192.20" y="1176.95" width="6.30" height="4.20"/>
<rect x="1195.75" y="1176.95" width="6.30" height="4.20"/>
<rect x="1198.93" y="1170.15" width="6.30" height="11.00"/>
<rect x="1219.83" y="1176.95" width="6.30" height="4.20"/>
<rect x="1232.06" y="1176.95" width="6.30" height="4.20"/>
<rect x="1240.74" y="1176.95" width="6.30" height="4.20"/>
<rect x="1247.47" y="1176.95" width="6.30" height="4.20"/>
<rect x="1252.96" y="1176.95" width="6.30" height="4.20"/>
<rect x="1257.61" y="1176.95" width="6.30" height="4.20"/>
<rect x="1261.64" y="1176.95" width="6.30" height="4.20"/>
<rect x="1265.19" y="1176.95" width="6.30" height="4.20"/>
<rect x="1268.37" y="1170.15" width="6.30" height="11.00"/>
<rect x="1289.27" y="1176.95" width="6.30" height="4.20"/>
<rect x="1301.50" y="1176.95" width="6.30" height="4.20"/>
<rect x="1310.18" y="1176.95" width="6.30" height="4.20"/>
<rect x="1316.91" y="1176.95" width="6.30" height="4.20"/>
<rect x="1322.40" y="1176.95" width="6.30" height="4.20"/>
<rect x="1327.05" y="1176.95" width="6.30" height="4.20"/>
<rect x="1331.08" y="1176.95" width="6.30" height="4.20"/>
<rect x="1334.63" y="1176.95" width="6.30" height="4.20"/>
<rect x="1337.81" y="1170.15" width="6.30" height="11.00"/>
<rect x="1358.71" y="1176.95" width="6.30" height="4.20"/>
<rect x="1370.94" y="1176.95" width="6.30" height="4.20"/>
<rect x="1379.62" y="1176.95" width="6.30" height="4.20"/>
<rect x="1386.35" y="1176.95" width="6.30" height="4.20"/>
<rect x="1391.84" y="1176.95" width="6.30" height="4.20"/>
<rect x="1396.49" y="1176.95" width="6.30" height="4.20"/>
<rect x="1400.52" y="1176.95" width="6.30" height="4.20"/>
<rect x="1404.07" y="1176.95" width="6.30" height="4.20"/>
<rect x="1407.25" y="1170.15" width="6.30" height="11.00"/>
<rect x="1428.15" y="1176.95" width="6.30" height="4.20"/>
<rect x="1440.38" y="1176.95" width="6.30" height="4.20"/>
<rect x="1449.06" y="1176.95" width="6.30" height="4.20"/>
<rect x="1455.79" y="1176.95" width="6.30" height="4.20"/>
<rect x="1461.28" y="1176.95" width="6.30" height="4.20"/>
<rect x="1465.93" y="1176.95" width="6.30" height="4.20"/>
<rect x="1469.96" y="1176.95" width="6.30" height="4.20"/>
<rect x="1473.51" y="1176.95" width="6.30" height="4.20"/>
<rect x="1476.69" y="1170.15" width="6.30" height="11.00"/>
<rect x="1497.59" y="1176.95" width="6.30" height="4.20"/>
<rect x="1509.82" y="1176.95" width="6.30" height="4.20"/>
<rect x="1518.50" y="1176.95" width="6.30" height="4.20"/>
<rect x="1525.23" y="1176.95" width="6.30" height="4.20"/>
<rect x="1530.72" y="1176.95" width="6.30" height="4.20"/>
<rect x="1535.37" y="1176.95" width="6.30" height="4.20"/>
<rect x="1539.40" y="1176.95" width="6.30" height="4.20"/>
<rect x="1542.95" y="1176.95" width="6.30" height="4.20"/>
<rect x="1546.13" y="1170.15" width="6.30" height="11.00"/>
<rect x="1567.03" y="1176.95" width="6.30" height="4.20"/>
<rect x="1579.26" y="1176.95" width="6.30" height="4.20"/>
<rect x="1587.94" y="1176.95" width="6.30" height="4.20"/>
<rect x="1594.67" y="1176.95" width="6.30" height="4.20"/>
<rect x="1600.16" y="1176.95" width="6.30" height="4.20"/>
<rect x="1604.81" y="1176.95" width="6.30" height="4.20"/>
<rect x="1608.84" y="1176.95" width="6.30" height="4.20"/>
<rect x="1612.39" y="1176.95" width="6.30" height="4.20"/>
<rect x="1615.57" y="1170.15" width="6.30" height="11.00"/>
<rect x="1636.47" y="1176.95" width="6.30" height="4.20"/>
<rect x="1648.70" y="1176.95" width="6.30" height="4.20"/>
<rect x="1657.38" y="1176.95" width="6.30" height="4.20"/>
<rect x="1664.11" y="1176.95" width="6.30" height="4.20"/>
<rect x="1669.60" y="1176.95" width="6.30" height="4.20"/>
<rect x="1674.25" y="1176.95" width="6.30" height="4.20"/>
<rect x="1678.28" y="1176.95" width="6.30" height="4.20"/>
<rect x="1681.83" y="1176.95" width="6.30" height="4.20"/>
<rect x="1685.01" y="1170.15" width="6.30" height="11.00"/>
<rect x="1044.25" y="123.05" width="11.00" height="6.30"/>
<rect x="1044.25" y="205.85" width="11.00" height="6.30"/>
<rect x="1044.25" y="288.65" width="11.00" height="6.30"/>
<rect x="1044.25" y="164.45" width="4.20" height="6.30"/>
<rect x="1044.25" y="247.25" width="4.20" height="6.30"/>
<rect x="1044.25" y="330.05" width="4.20" height="6.30"/>
<rect x="1044.25" y="406.85" width="11.00" height="6.30"/>
<rect x="1044.25" y="490.05" width="11.00" height="6.30"/>
<rect x="1044.25" y="573.25" width="11.00" height="6.30"/>
<rect x="1044.25" y="448.45" width="4.20" height="6.30"/>
<rect x="1044.25" y="531.65" width="4.20" height="6.30"/>
<rect x="1044.25" y="614.85" width="4.20" height="6.30"/>
<rect x="1044.25" y="664.05" width="11.00" height="6.30"/>
<rect x="1044.25" y="753.55" width="11.00" height="6.30"/>
<rect x="1044.25" y="843.05" width="11.00" height="6.30"/>
<rect x="1044.25" y="708.80" width="4.20" height="6.30"/>
<rect x="1044.25" y="798.30" width="4.20" height="6.30"/>
<rect x="1044.25" y="887.80" width="4.20" height="6.30"/>
<rect x="1044.25" y="934.95" width="11.00" height="6.30"/>
<rect x="1044.25" y="1057.45" width="11.00" height="6.30"/>
<rect x="1044.25" y="996.20" width="4.20" height="6.30"/>
<rect x="1044.25" y="1118.70" width="4.20" height="6.30"/>
</g>
<g id="data">
<clipPath id="cL0"><rect x="130.90" y="107.30" width="674.20" height="272.20"/></clipPath>
<g clip-path="url(#cL0)">
<path d="M157.40,272.70 L246.15,272.70 L334.90,272.70 L423.65,271.60 L512.40,266.20 L601.15,261.20 L689.90,254.20 L778.65,250.20" fill="none" stroke="#0000FF" stroke-width="5.0" stroke-linejoin="round" stroke-linecap="round"/>
<polygon points="157.40,261.48 159.92,268.89 167.10,269.23 161.47,274.16 163.40,281.78 157.40,277.41 151.40,281.78 153.33,274.16 147.70,269.23 154.88,268.89" fill="#0000FF"/>
<polygon points="246.15,261.48 248.67,268.89 255.85,269.23 250.22,274.16 252.15,281.78 246.15,277.41 240.15,281.78 242.08,274.16 236.45,269.23 243.63,268.89" fill="#0000FF"/>
<polygon points="334.90,261.48 337.42,268.89 344.60,269.23 338.97,274.16 340.90,281.78 334.90,277.41 328.90,281.78 330.83,274.16 325.20,269.23 332.38,268.89" fill="#0000FF"/>
<polygon points="423.65,260.38 426.17,267.79 433.35,268.13 427.72,273.06 429.65,280.68 423.65,276.31 417.65,280.68 419.58,273.06 413.95,268.13 421.13,267.79" fill="#0000FF"/>
<polygon points="512.40,254.98 514.92,262.39 522.10,262.73 516.47,267.66 518.40,275.28 512.40,270.91 506.40,275.28 508.33,267.66 502.70,262.73 509.88,262.39" fill="#0000FF"/>
<polygon points="601.15,249.98 603.67,257.39 610.85,257.73 605.22,262.66 607.15,270.28 601.15,265.91 595.15,270.28 597.08,262.66 591.45,257.73 598.63,257.39" fill="#0000FF"/>
<polygon points="689.90,242.98 692.42,250.39 699.60,250.73 693.97,255.66 695.90,263.28 689.90,258.91 683.90,263.28 685.83,255.66 680.20,250.73 687.38,250.39" fill="#0000FF"/>
<polygon points="778.65,238.98 781.17,246.39 788.35,246.73 782.72,251.66 784.65,259.28 778.65,254.91 772.65,259.28 774.58,251.66 768.95,246.73 776.13,246.39" fill="#0000FF"/>
<path d="M157.40,279.10 L246.15,279.10 L334.90,279.10 L423.65,278.50 L512.40,278.40 L601.15,283.80 L689.90,290.90 L778.65,288.90" fill="none" stroke="#FF0000" stroke-width="5.0" stroke-linejoin="round" stroke-linecap="round"/>
<ellipse cx="157.40" cy="279.10" rx="8.40" ry="9.20" fill="#FF0000"/>
<ellipse cx="246.15" cy="279.10" rx="8.40" ry="9.20" fill="#FF0000"/>
<ellipse cx="334.90" cy="279.10" rx="8.40" ry="9.20" fill="#FF0000"/>
<ellipse cx="423.65" cy="278.50" rx="8.40" ry="9.20" fill="#FF0000"/>
<ellipse cx="512.40" cy="278.40" rx="8.40" ry="9.20" fill="#FF0000"/>
<ellipse cx="601.15" cy="283.80" rx="8.40" ry="9.20" fill="#FF0000"/>
<ellipse cx="689.90" cy="290.90" rx="8.40" ry="9.20" fill="#FF0000"/>
<ellipse cx="778.65" cy="288.90" rx="8.40" ry="9.20" fill="#FF0000"/>
</g>
<clipPath id="cL1"><rect x="130.90" y="379.50" width="674.20" height="272.50"/></clipPath>
<g clip-path="url(#cL1)">
<path d="M157.40,545.80 L246.15,545.80 L334.90,545.80 L423.65,542.40 L512.40,531.70 L601.15,529.50 L689.90,526.00 L778.65,522.00" fill="none" stroke="#0000FF" stroke-width="5.0" stroke-linejoin="round" stroke-linecap="round"/>
<polygon points="157.40,534.58 159.92,541.99 167.10,542.33 161.47,547.26 163.40,554.88 157.40,550.51 151.40,554.88 153.33,547.26 147.70,542.33 154.88,541.99" fill="#0000FF"/>
<polygon points="246.15,534.58 248.67,541.99 255.85,542.33 250.22,547.26 252.15,554.88 246.15,550.51 240.15,554.88 242.08,547.26 236.45,542.33 243.63,541.99" fill="#0000FF"/>
<polygon points="334.90,534.58 337.42,541.99 344.60,542.33 338.97,547.26 340.90,554.88 334.90,550.51 328.90,554.88 330.83,547.26 325.20,542.33 332.38,541.99" fill="#0000FF"/>
<polygon points="423.65,531.18 426.17,538.59 433.35,538.93 427.72,543.86 429.65,551.48 423.65,547.11 417.65,551.48 419.58,543.86 413.95,538.93 421.13,538.59" fill="#0000FF"/>
<polygon points="512.40,520.48 514.92,527.89 522.10,528.23 516.47,533.16 518.40,540.78 512.40,536.41 506.40,540.78 508.33,533.16 502.70,528.23 509.88,527.89" fill="#0000FF"/>
<polygon points="601.15,518.28 603.67,525.69 610.85,526.03 605.22,530.96 607.15,538.58 601.15,534.21 595.15,538.58 597.08,530.96 591.45,526.03 598.63,525.69" fill="#0000FF"/>
<polygon points="689.90,514.78 692.42,522.19 699.60,522.53 693.97,527.46 695.90,535.08 689.90,530.71 683.90,535.08 685.83,527.46 680.20,522.53 687.38,522.19" fill="#0000FF"/>
<polygon points="778.65,510.78 781.17,518.19 788.35,518.53 782.72,523.46 784.65,531.08 778.65,526.71 772.65,531.08 774.58,523.46 768.95,518.53 776.13,518.19" fill="#0000FF"/>
<path d="M157.40,530.70 L246.15,530.70 L334.90,530.70 L423.65,529.30 L512.40,529.20 L601.15,532.20 L689.90,528.20 L778.65,524.70" fill="none" stroke="#FF0000" stroke-width="5.0" stroke-linejoin="round" stroke-linecap="round"/>
<ellipse cx="157.40" cy="530.70" rx="8.40" ry="9.20" fill="#FF0000"/>
<ellipse cx="246.15" cy="530.70" rx="8.40" ry="9.20" fill="#FF0000"/>
<ellipse cx="334.90" cy="530.70" rx="8.40" ry="9.20" fill="#FF0000"/>
<ellipse cx="423.65" cy="529.30" rx="8.40" ry="9.20" fill="#FF0000"/>
<ellipse cx="512.40" cy="529.20" rx="8.40" ry="9.20" fill="#FF0000"/>
<ellipse cx="601.15" cy="532.20" rx="8.40" ry="9.20" fill="#FF0000"/>
<ellipse cx="689.90" cy="528.20" rx="8.40" ry="9.20" fill="#FF0000"/>
<ellipse cx="778.65" cy="524.70" rx="8.40" ry="9.20" fill="#FF0000"/>
</g>
<clipPath id="cL2"><rect x="130.90" y="652.00" width="674.20" height="271.80"/></clipPath>
<g clip-path="url(#cL2)">
<path d="M157.40,769.00 L246.15,769.00 L334.90,769.00 L423.65,769.00 L512.40,769.00 L601.15,768.40 L689.90,768.00 L778.65,768.00" fill="none" stroke="#0000FF" stroke-width="5.0" stroke-linejoin="round" stroke-linecap="round"/>
<polygon points="157.40,757.78 159.92,765.19 167.10,765.53 161.47,770.46 163.40,778.08 157.40,773.71 151.40,778.08 153.33,770.46 147.70,765.53 154.88,765.19" fill="#0000FF"/>
<polygon points="246.15,757.78 248.67,765.19 255.85,765.53 250.22,770.46 252.15,778.08 246.15,773.71 240.15,778.08 242.08,770.46 236.45,765.53 243.63,765.19" fill="#0000FF"/>
<polygon points="334.90,757.78 337.42,765.19 344.60,765.53 338.97,770.46 340.90,778.08 334.90,773.71 328.90,778.08 330.83,770.46 325.20,765.53 332.38,765.19" fill="#0000FF"/>
<polygon points="423.65,757.78 426.17,765.19 433.35,765.53 427.72,770.46 429.65,778.08 423.65,773.71 417.65,778.08 419.58,770.46 413.95,765.53 421.13,765.19" fill="#0000FF"/>
<polygon points="512.40,757.78 514.92,765.19 522.10,765.53 516.47,770.46 518.40,778.08 512.40,773.71 506.40,778.08 508.33,770.46 502.70,765.53 509.88,765.19" fill="#0000FF"/>
<polygon points="601.15,757.18 603.67,764.59 610.85,764.93 605.22,769.86 607.15,777.48 601.15,773.11 595.15,777.48 597.08,769.86 591.45,764.93 598.63,764.59" fill="#0000FF"/>
<polygon points="689.90,756.78 692.42,764.19 699.60,764.53 693.97,769.46 695.90,777.08 689.90,772.71 683.90,777.08 685.83,769.46 680.20,764.53 687.38,764.19" fill="#0000FF"/>
<polygon points="778.65,756.78 781.17,764.19 788.35,764.53 782.72,769.46 784.65,777.08 778.65,772.71 772.65,777.08 774.58,769.46 768.95,764.53 776.13,764.19" fill="#0000FF"/>
<path d="M157.40,768.70 L246.15,768.70 L334.90,768.70 L423.65,768.70 L512.40,769.30 L601.15,776.00 L689.90,793.90 L778.65,800.00" fill="none" stroke="#FF0000" stroke-width="5.0" stroke-linejoin="round" stroke-linecap="round"/>
<ellipse cx="157.40" cy="768.70" rx="8.40" ry="9.20" fill="#FF0000"/>
<ellipse cx="246.15" cy="768.70" rx="8.40" ry="9.20" fill="#FF0000"/>
<ellipse cx="334.90" cy="768.70" rx="8.40" ry="9.20" fill="#FF0000"/>
<ellipse cx="423.65" cy="768.70" rx="8.40" ry="9.20" fill="#FF0000"/>
<ellipse cx="512.40" cy="769.30" rx="8.40" ry="9.20" fill="#FF0000"/>
<ellipse cx="601.15" cy="776.00" rx="8.40" ry="9.20" fill="#FF0000"/>
<ellipse cx="689.90" cy="793.90" rx="8.40" ry="9.20" fill="#FF0000"/>
<ellipse cx="778.65" cy="800.00" rx="8.40" ry="9.20" fill="#FF0000"/>
</g>
<clipPath id="cL3"><rect x="130.90" y="923.80" width="674.20" height="271.80"/></clipPath>
<g clip-path="url(#cL3)">
<path d="M157.40,1081.20 L246.15,1081.20 L334.90,1081.20 L423.65,1081.20 L512.40,1080.50 L601.15,1074.60 L689.90,1070.20 L778.65,1067.20" fill="none" stroke="#0000FF" stroke-width="5.0" stroke-linejoin="round" stroke-linecap="round"/>
<polygon points="157.40,1069.98 159.92,1077.39 167.10,1077.73 161.47,1082.66 163.40,1090.28 157.40,1085.91 151.40,1090.28 153.33,1082.66 147.70,1077.73 154.88,1077.39" fill="#0000FF"/>
<polygon points="246.15,1069.98 248.67,1077.39 255.85,1077.73 250.22,1082.66 252.15,1090.28 246.15,1085.91 240.15,1090.28 242.08,1082.66 236.45,1077.73 243.63,1077.39" fill="#0000FF"/>
<polygon points="334.90,1069.98 337.42,1077.39 344.60,1077.73 338.97,1082.66 340.90,1090.28 334.90,1085.91 328.90,1090.28 330.83,1082.66 325.20,1077.73 332.38,1077.39" fill="#0000FF"/>
<polygon points="423.65,1069.98 426.17,1077.39 433.35,1077.73 427.72,1082.66 429.65,1090.28 423.65,1085.91 417.65,1090.28 419.58,1082.66 413.95,1077.73 421.13,1077.39" fill="#0000FF"/>
<polygon points="512.40,1069.28 514.92,1076.69 522.10,1077.03 516.47,1081.96 518.40,1089.58 512.40,1085.21 506.40,1089.58 508.33,1081.96 502.70,1077.03 509.88,1076.69" fill="#0000FF"/>
<polygon points="601.15,1063.38 603.67,1070.79 610.85,1071.13 605.22,1076.06 607.15,1083.68 601.15,1079.31 595.15,1083.68 597.08,1076.06 591.45,1071.13 598.63,1070.79" fill="#0000FF"/>
<polygon points="689.90,1058.98 692.42,1066.39 699.60,1066.73 693.97,1071.66 695.90,1079.28 689.90,1074.91 683.90,1079.28 685.83,1071.66 680.20,1066.73 687.38,1066.39" fill="#0000FF"/>
<polygon points="778.65,1055.98 781.17,1063.39 788.35,1063.73 782.72,1068.66 784.65,1076.28 778.65,1071.91 772.65,1076.28 774.58,1068.66 768.95,1063.73 776.13,1063.39" fill="#0000FF"/>
<path d="M157.40,1092.70 L246.15,1092.70 L334.90,1092.70 L423.65,1092.70 L512.40,1092.40 L601.15,1090.90 L689.90,1087.10 L778.65,1080.00" fill="none" stroke="#FF0000" stroke-width="5.0" stroke-linejoin="round" stroke-linecap="round"/>
<ellipse cx="157.40" cy="1092.70" rx="8.40" ry="9.20" fill="#FF0000"/>
<ellipse cx="246.15" cy="1092.70" rx="8.40" ry="9.20" fill="#FF0000"/>
<ellipse cx="334.90" cy="1092.70" rx="8.40" ry="9.20" fill="#FF0000"/>
<ellipse cx="423.65" cy="1092.70" rx="8.40" ry="9.20" fill="#FF0000"/>
<ellipse cx="512.40" cy="1092.40" rx="8.40" ry="9.20" fill="#FF0000"/>
<ellipse cx="601.15" cy="1090.90" rx="8.40" ry="9.20" fill="#FF0000"/>
<ellipse cx="689.90" cy="1087.10" rx="8.40" ry="9.20" fill="#FF0000"/>
<ellipse cx="778.65" cy="1080.00" rx="8.40" ry="9.20" fill="#FF0000"/>
</g>
<clipPath id="cR0"><rect x="1042.10" y="105.60" width="667.50" height="269.70"/></clipPath>
<g clip-path="url(#cR0)">
<path d="M1063.20,215.60 C1074.77,215.60 1109.49,215.60 1132.64,215.60 C1155.79,215.60 1178.93,215.60 1202.08,215.60 C1225.23,215.60 1248.37,215.35 1271.52,215.60 C1294.67,215.85 1317.81,216.03 1340.96,217.10 C1364.11,218.17 1387.25,218.90 1410.40,222.00 C1433.55,225.10 1456.69,228.73 1479.84,235.70 C1502.99,242.67 1526.13,250.55 1549.28,263.80 C1572.43,277.05 1595.57,296.75 1618.72,315.20 C1641.87,333.65 1676.59,364.62 1688.16,374.50" fill="none" stroke="#0000FF" stroke-width="5.0" stroke-linejoin="round" stroke-linecap="round"/>
<polygon points="1063.20,204.38 1065.72,211.79 1072.90,212.13 1067.27,217.06 1069.20,224.68 1063.20,220.31 1057.20,224.68 1059.13,217.06 1053.50,212.13 1060.68,211.79" fill="#0000FF"/>
<polygon points="1132.64,204.38 1135.16,211.79 1142.34,212.13 1136.71,217.06 1138.64,224.68 1132.64,220.31 1126.64,224.68 1128.57,217.06 1122.94,212.13 1130.12,211.79" fill="#0000FF"/>
<polygon points="1202.08,204.38 1204.60,211.79 1211.78,212.13 1206.15,217.06 1208.08,224.68 1202.08,220.31 1196.08,224.68 1198.01,217.06 1192.38,212.13 1199.56,211.79" fill="#0000FF"/>
<polygon points="1271.52,204.38 1274.04,211.79 1281.22,212.13 1275.59,217.06 1277.52,224.68 1271.52,220.31 1265.52,224.68 1267.45,217.06 1261.82,212.13 1269.00,211.79" fill="#0000FF"/>
<polygon points="1340.96,205.88 1343.48,213.29 1350.66,213.63 1345.03,218.56 1346.96,226.18 1340.96,221.81 1334.96,226.18 1336.89,218.56 1331.26,213.63 1338.44,213.29" fill="#0000FF"/>
<polygon points="1410.40,210.78 1412.92,218.19 1420.10,218.53 1414.47,223.46 1416.40,231.08 1410.40,226.71 1404.40,231.08 1406.33,223.46 1400.70,218.53 1407.88,218.19" fill="#0000FF"/>
<polygon points="1479.84,224.48 1482.36,231.89 1489.54,232.23 1483.91,237.16 1485.84,244.78 1479.84,240.41 1473.84,244.78 1475.77,237.16 1470.14,232.23 1477.32,231.89" fill="#0000FF"/>
<polygon points="1549.28,252.58 1551.80,259.99 1558.98,260.33 1553.35,265.26 1555.28,272.88 1549.28,268.51 1543.28,272.88 1545.21,265.26 1539.58,260.33 1546.76,259.99" fill="#0000FF"/>
<polygon points="1618.72,303.98 1621.24,311.39 1628.42,311.73 1622.79,316.66 1624.72,324.28 1618.72,319.91 1612.72,324.28 1614.65,316.66 1609.02,311.73 1616.20,311.39" fill="#0000FF"/>
<polygon points="1688.16,363.28 1690.68,370.69 1697.86,371.03 1692.23,375.96 1694.16,383.58 1688.16,379.21 1682.16,383.58 1684.09,375.96 1678.46,371.03 1685.64,370.69" fill="#0000FF"/>
<path d="M1063.20,262.60 C1074.77,262.60 1109.49,262.60 1132.64,262.60 C1155.79,262.60 1178.93,262.60 1202.08,262.60 C1225.23,262.60 1248.37,262.60 1271.52,262.60 C1294.67,262.60 1317.81,262.58 1340.96,262.60 C1364.11,262.62 1387.25,262.47 1410.40,262.70 C1433.55,262.93 1456.69,262.07 1479.84,264.00 C1502.99,265.93 1526.13,265.50 1549.28,274.30 C1572.43,283.10 1595.57,300.25 1618.72,316.80 C1641.87,333.35 1676.59,364.13 1688.16,373.60" fill="none" stroke="#FF0000" stroke-width="5.0" stroke-linejoin="round" stroke-linecap="round"/>
<ellipse cx="1063.20" cy="262.60" rx="8.40" ry="9.20" fill="#FF0000"/>
<ellipse cx="1132.64" cy="262.60" rx="8.40" ry="9.20" fill="#FF0000"/>
<ellipse cx="1202.08" cy="262.60" rx="8.40" ry="9.20" fill="#FF0000"/>
<ellipse cx="1271.52" cy="262.60" rx="8.40" ry="9.20" fill="#FF0000"/>
<ellipse cx="1340.96" cy="262.60" rx="8.40" ry="9.20" fill="#FF0000"/>
<ellipse cx="1410.40" cy="262.70" rx="8.40" ry="9.20" fill="#FF0000"/>
<ellipse cx="1479.84" cy="264.00" rx="8.40" ry="9.20" fill="#FF0000"/>
<ellipse cx="1549.28" cy="274.30" rx="8.40" ry="9.20" fill="#FF0000"/>
<ellipse cx="1618.72" cy="316.80" rx="8.40" ry="9.20" fill="#FF0000"/>
<ellipse cx="1688.16" cy="373.60" rx="8.40" ry="9.20" fill="#FF0000"/>
</g>
<clipPath id="cR1"><rect x="1042.10" y="375.30" width="667.50" height="269.20"/></clipPath>
<g clip-path="url(#cR1)">
<path d="M1063.20,464.00 C1074.77,464.00 1109.49,464.00 1132.64,464.00 C1155.79,464.00 1178.93,464.00 1202.08,464.00 C1225.23,464.00 1248.37,464.00 1271.52,464.00 C1294.67,464.00 1317.81,464.03 1340.96,464.00 C1364.11,463.97 1387.25,463.77 1410.40,463.80 C1433.55,463.83 1456.69,463.75 1479.84,464.20 C1502.99,464.65 1526.13,460.37 1549.28,466.50 C1572.43,472.63 1595.57,486.75 1618.72,501.00 C1641.87,515.25 1676.59,543.50 1688.16,552.00" fill="none" stroke="#0000FF" stroke-width="5.0" stroke-linejoin="round" stroke-linecap="round"/>
<polygon points="1063.20,452.78 1065.72,460.19 1072.90,460.53 1067.27,465.46 1069.20,473.08 1063.20,468.71 1057.20,473.08 1059.13,465.46 1053.50,460.53 1060.68,460.19" fill="#0000FF"/>
<polygon points="1132.64,452.78 1135.16,460.19 1142.34,460.53 1136.71,465.46 1138.64,473.08 1132.64,468.71 1126.64,473.08 1128.57,465.46 1122.94,460.53 1130.12,460.19" fill="#0000FF"/>
<polygon points="1202.08,452.78 1204.60,460.19 1211.78,460.53 1206.15,465.46 1208.08,473.08 1202.08,468.71 1196.08,473.08 1198.01,465.46 1192.38,460.53 1199.56,460.19" fill="#0000FF"/>
<polygon points="1271.52,452.78 1274.04,460.19 1281.22,460.53 1275.59,465.46 1277.52,473.08 1271.52,468.71 1265.52,473.08 1267.45,465.46 1261.82,460.53 1269.00,460.19" fill="#0000FF"/>
<polygon points="1340.96,452.78 1343.48,460.19 1350.66,460.53 1345.03,465.46 1346.96,473.08 1340.96,468.71 1334.96,473.08 1336.89,465.46 1331.26,460.53 1338.44,460.19" fill="#0000FF"/>
<polygon points="1410.40,452.58 1412.92,459.99 1420.10,460.33 1414.47,465.26 1416.40,472.88 1410.40,468.51 1404.40,472.88 1406.33,465.26 1400.70,460.33 1407.88,459.99" fill="#0000FF"/>
<polygon points="1479.84,452.98 1482.36,460.39 1489.54,460.73 1483.91,465.66 1485.84,473.28 1479.84,468.91 1473.84,473.28 1475.77,465.66 1470.14,460.73 1477.32,460.39" fill="#0000FF"/>
<polygon points="1549.28,455.28 1551.80,462.69 1558.98,463.03 1553.35,467.96 1555.28,475.58 1549.28,471.21 1543.28,475.58 1545.21,467.96 1539.58,463.03 1546.76,462.69" fill="#0000FF"/>
<polygon points="1618.72,489.78 1621.24,497.19 1628.42,497.53 1622.79,502.46 1624.72,510.08 1618.72,505.71 1612.72,510.08 1614.65,502.46 1609.02,497.53 1616.20,497.19" fill="#0000FF"/>
<polygon points="1688.16,540.78 1690.68,548.19 1697.86,548.53 1692.23,553.46 1694.16,561.08 1688.16,556.71 1682.16,561.08 1684.09,553.46 1678.46,548.53 1685.64,548.19" fill="#0000FF"/>
<path d="M1063.20,465.70 C1074.77,465.70 1109.49,465.70 1132.64,465.70 C1155.79,465.70 1178.93,465.70 1202.08,465.70 C1225.23,465.70 1248.37,465.70 1271.52,465.70 C1294.67,465.70 1317.81,465.65 1340.96,465.70 C1364.11,465.75 1387.25,465.95 1410.40,466.00 C1433.55,466.05 1456.69,465.70 1479.84,466.00 C1502.99,466.30 1526.13,461.92 1549.28,467.80 C1572.43,473.68 1595.57,487.27 1618.72,501.30 C1641.87,515.33 1676.59,543.55 1688.16,552.00" fill="none" stroke="#FF0000" stroke-width="5.0" stroke-linejoin="round" stroke-linecap="round"/>
<ellipse cx="1063.20" cy="465.70" rx="8.40" ry="9.20" fill="#FF0000"/>
<ellipse cx="1132.64" cy="465.70" rx="8.40" ry="9.20" fill="#FF0000"/>
<ellipse cx="1202.08" cy="465.70" rx="8.40" ry="9.20" fill="#FF0000"/>
<ellipse cx="1271.52" cy="465.70" rx="8.40" ry="9.20" fill="#FF0000"/>
<ellipse cx="1340.96" cy="465.70" rx="8.40" ry="9.20" fill="#FF0000"/>
<ellipse cx="1410.40" cy="466.00" rx="8.40" ry="9.20" fill="#FF0000"/>
<ellipse cx="1479.84" cy="466.00" rx="8.40" ry="9.20" fill="#FF0000"/>
<ellipse cx="1549.28" cy="467.80" rx="8.40" ry="9.20" fill="#FF0000"/>
<ellipse cx="1618.72" cy="501.30" rx="8.40" ry="9.20" fill="#FF0000"/>
<ellipse cx="1688.16" cy="552.00" rx="8.40" ry="9.20" fill="#FF0000"/>
</g>
<clipPath id="cR2"><rect x="1042.10" y="644.50" width="667.50" height="269.40"/></clipPath>
<g clip-path="url(#cR2)">
<path d="M1063.20,760.20 C1074.77,760.20 1109.49,760.20 1132.64,760.20 C1155.79,760.20 1178.93,760.20 1202.08,760.20 C1225.23,760.20 1248.37,760.20 1271.52,760.20 C1294.67,760.20 1317.81,760.03 1340.96,760.20 C1364.11,760.37 1387.25,760.47 1410.40,761.20 C1433.55,761.93 1456.69,760.33 1479.84,764.60 C1502.99,768.87 1526.13,782.13 1549.28,786.80 C1572.43,791.47 1595.57,772.03 1618.72,792.60 C1641.87,813.17 1676.59,890.60 1688.16,910.20" fill="none" stroke="#0000FF" stroke-width="5.0" stroke-linejoin="round" stroke-linecap="round"/>
<polygon points="1063.20,748.98 1065.72,756.39 1072.90,756.73 1067.27,761.66 1069.20,769.28 1063.20,764.91 1057.20,769.28 1059.13,761.66 1053.50,756.73 1060.68,756.39" fill="#0000FF"/>
<polygon points="1132.64,748.98 1135.16,756.39 1142.34,756.73 1136.71,761.66 1138.64,769.28 1132.64,764.91 1126.64,769.28 1128.57,761.66 1122.94,756.73 1130.12,756.39" fill="#0000FF"/>
<polygon points="1202.08,748.98 1204.60,756.39 1211.78,756.73 1206.15,761.66 1208.08,769.28 1202.08,764.91 1196.08,769.28 1198.01,761.66 1192.38,756.73 1199.56,756.39" fill="#0000FF"/>
<polygon points="1271.52,748.98 1274.04,756.39 1281.22,756.73 1275.59,761.66 1277.52,769.28 1271.52,764.91 1265.52,769.28 1267.45,761.66 1261.82,756.73 1269.00,756.39" fill="#0000FF"/>
<polygon points="1340.96,748.98 1343.48,756.39 1350.66,756.73 1345.03,761.66 1346.96,769.28 1340.96,764.91 1334.96,769.28 1336.89,761.66 1331.26,756.73 1338.44,756.39" fill="#0000FF"/>
<polygon points="1410.40,749.98 1412.92,757.39 1420.10,757.73 1414.47,762.66 1416.40,770.28 1410.40,765.91 1404.40,770.28 1406.33,762.66 1400.70,757.73 1407.88,757.39" fill="#0000FF"/>
<polygon points="1479.84,753.38 1482.36,760.79 1489.54,761.13 1483.91,766.06 1485.84,773.68 1479.84,769.31 1473.84,773.68 1475.77,766.06 1470.14,761.13 1477.32,760.79" fill="#0000FF"/>
<polygon points="1549.28,775.58 1551.80,782.99 1558.98,783.33 1553.35,788.26 1555.28,795.88 1549.28,791.51 1543.28,795.88 1545.21,788.26 1539.58,783.33 1546.76,782.99" fill="#0000FF"/>
<polygon points="1618.72,781.38 1621.24,788.79 1628.42,789.13 1622.79,794.06 1624.72,801.68 1618.72,797.31 1612.72,801.68 1614.65,794.06 1609.02,789.13 1616.20,788.79" fill="#0000FF"/>
<polygon points="1688.16,898.98 1690.68,906.39 1697.86,906.73 1692.23,911.66 1694.16,919.28 1688.16,914.91 1682.16,919.28 1684.09,911.66 1678.46,906.73 1685.64,906.39" fill="#0000FF"/>
<path d="M1063.20,785.40 C1074.77,785.40 1109.49,785.40 1132.64,785.40 C1155.79,785.40 1178.93,785.40 1202.08,785.40 C1225.23,785.40 1248.37,785.40 1271.52,785.40 C1294.67,785.40 1317.81,785.33 1340.96,785.40 C1364.11,785.47 1387.25,785.57 1410.40,785.80 C1433.55,786.03 1456.69,785.22 1479.84,786.80 C1502.99,788.38 1526.13,794.20 1549.28,795.30 C1572.43,796.40 1595.57,774.08 1618.72,793.40 C1641.87,812.72 1676.59,891.57 1688.16,911.20" fill="none" stroke="#FF0000" stroke-width="5.0" stroke-linejoin="round" stroke-linecap="round"/>
<ellipse cx="1063.20" cy="785.40" rx="8.40" ry="9.20" fill="#FF0000"/>
<ellipse cx="1132.64" cy="785.40" rx="8.40" ry="9.20" fill="#FF0000"/>
<ellipse cx="1202.08" cy="785.40" rx="8.40" ry="9.20" fill="#FF0000"/>
<ellipse cx="1271.52" cy="785.40" rx="8.40" ry="9.20" fill="#FF0000"/>
<ellipse cx="1340.96" cy="785.40" rx="8.40" ry="9.20" fill="#FF0000"/>
<ellipse cx="1410.40" cy="785.80" rx="8.40" ry="9.20" fill="#FF0000"/>
<ellipse cx="1479.84" cy="786.80" rx="8.40" ry="9.20" fill="#FF0000"/>
<ellipse cx="1549.28" cy="795.30" rx="8.40" ry="9.20" fill="#FF0000"/>
<ellipse cx="1618.72" cy="793.40" rx="8.40" ry="9.20" fill="#FF0000"/>
<ellipse cx="1688.16" cy="911.20" rx="8.40" ry="9.20" fill="#FF0000"/>
</g>
<clipPath id="cR3"><rect x="1042.10" y="913.90" width="667.50" height="269.40"/></clipPath>
<g clip-path="url(#cR3)">
<path d="M1063.20,1057.20 C1074.77,1057.20 1109.49,1057.20 1132.64,1057.20 C1155.79,1057.20 1178.93,1057.20 1202.08,1057.20 C1225.23,1057.20 1248.37,1056.85 1271.52,1057.20 C1294.67,1057.55 1317.81,1058.28 1340.96,1059.30 C1364.11,1060.32 1387.25,1061.47 1410.40,1063.30 C1433.55,1065.13 1456.69,1067.93 1479.84,1070.30 C1502.99,1072.67 1526.13,1070.83 1549.28,1077.50 C1572.43,1084.17 1595.57,1098.80 1618.72,1110.30 C1641.87,1121.80 1676.59,1140.47 1688.16,1146.50" fill="none" stroke="#0000FF" stroke-width="5.0" stroke-linejoin="round" stroke-linecap="round"/>
<polygon points="1063.20,1045.98 1065.72,1053.39 1072.90,1053.73 1067.27,1058.66 1069.20,1066.28 1063.20,1061.91 1057.20,1066.28 1059.13,1058.66 1053.50,1053.73 1060.68,1053.39" fill="#0000FF"/>
<polygon points="1132.64,1045.98 1135.16,1053.39 1142.34,1053.73 1136.71,1058.66 1138.64,1066.28 1132.64,1061.91 1126.64,1066.28 1128.57,1058.66 1122.94,1053.73 1130.12,1053.39" fill="#0000FF"/>
<polygon points="1202.08,1045.98 1204.60,1053.39 1211.78,1053.73 1206.15,1058.66 1208.08,1066.28 1202.08,1061.91 1196.08,1066.28 1198.01,1058.66 1192.38,1053.73 1199.56,1053.39" fill="#0000FF"/>
<polygon points="1271.52,1045.98 1274.04,1053.39 1281.22,1053.73 1275.59,1058.66 1277.52,1066.28 1271.52,1061.91 1265.52,1066.28 1267.45,1058.66 1261.82,1053.73 1269.00,1053.39" fill="#0000FF"/>
<polygon points="1340.96,1048.08 1343.48,1055.49 1350.66,1055.83 1345.03,1060.76 1346.96,1068.38 1340.96,1064.01 1334.96,1068.38 1336.89,1060.76 1331.26,1055.83 1338.44,1055.49" fill="#0000FF"/>
<polygon points="1410.40,1052.08 1412.92,1059.49 1420.10,1059.83 1414.47,1064.76 1416.40,1072.38 1410.40,1068.01 1404.40,1072.38 1406.33,1064.76 1400.70,1059.83 1407.88,1059.49" fill="#0000FF"/>
<polygon points="1479.84,1059.08 1482.36,1066.49 1489.54,1066.83 1483.91,1071.76 1485.84,1079.38 1479.84,1075.01 1473.84,1079.38 1475.77,1071.76 1470.14,1066.83 1477.32,1066.49" fill="#0000FF"/>
<polygon points="1549.28,1066.28 1551.80,1073.69 1558.98,1074.03 1553.35,1078.96 1555.28,1086.58 1549.28,1082.21 1543.28,1086.58 1545.21,1078.96 1539.58,1074.03 1546.76,1073.69" fill="#0000FF"/>
<polygon points="1618.72,1099.08 1621.24,1106.49 1628.42,1106.83 1622.79,1111.76 1624.72,1119.38 1618.72,1115.01 1612.72,1119.38 1614.65,1111.76 1609.02,1106.83 1616.20,1106.49" fill="#0000FF"/>
<polygon points="1688.16,1135.28 1690.68,1142.69 1697.86,1143.03 1692.23,1147.96 1694.16,1155.58 1688.16,1151.21 1682.16,1155.58 1684.09,1147.96 1678.46,1143.03 1685.64,1142.69" fill="#0000FF"/>
<path d="M1063.20,1076.10 C1074.77,1076.10 1109.49,1076.10 1132.64,1076.10 C1155.79,1076.10 1178.93,1076.10 1202.08,1076.10 C1225.23,1076.10 1248.37,1076.10 1271.52,1076.10 C1294.67,1076.10 1317.81,1076.03 1340.96,1076.10 C1364.11,1076.17 1387.25,1076.37 1410.40,1076.50 C1433.55,1076.63 1456.69,1076.63 1479.84,1076.90 C1502.99,1077.17 1526.13,1072.62 1549.28,1078.10 C1572.43,1083.58 1595.57,1098.08 1618.72,1109.80 C1641.87,1121.52 1676.59,1141.97 1688.16,1148.40" fill="none" stroke="#FF0000" stroke-width="5.0" stroke-linejoin="round" stroke-linecap="round"/>
<ellipse cx="1063.20" cy="1076.10" rx="8.40" ry="9.20" fill="#FF0000"/>
<ellipse cx="1132.64" cy="1076.10" rx="8.40" ry="9.20" fill="#FF0000"/>
<ellipse cx="1202.08" cy="1076.10" rx="8.40" ry="9.20" fill="#FF0000"/>
<ellipse cx="1271.52" cy="1076.10" rx="8.40" ry="9.20" fill="#FF0000"/>
<ellipse cx="1340.96" cy="1076.10" rx="8.40" ry="9.20" fill="#FF0000"/>
<ellipse cx="1410.40" cy="1076.50" rx="8.40" ry="9.20" fill="#FF0000"/>
<ellipse cx="1479.84" cy="1076.90" rx="8.40" ry="9.20" fill="#FF0000"/>
<ellipse cx="1549.28" cy="1078.10" rx="8.40" ry="9.20" fill="#FF0000"/>
<ellipse cx="1618.72" cy="1109.80" rx="8.40" ry="9.20" fill="#FF0000"/>
<ellipse cx="1688.16" cy="1148.40" rx="8.40" ry="9.20" fill="#FF0000"/>
</g>
</g>
<g id="text">
<g id="ta" class="ft" transform="matrix(1.03689,0,0,1.02676,-14.981,-2.043)"><text x="406.00" y="33.50" font-size="44.00" text-anchor="middle" >(a)</text></g>
<g id="tb" class="ft" transform="matrix(1.03506,0,0,0.97776,-46.035,-0.775)"><text x="1312.00" y="33.50" font-size="44.00" text-anchor="middle" >(b)</text></g>
<g id="yt0" class="ft" transform="matrix(1.04475,0,0,1.12568,-3.998,-16.641)"><text x="115.70" y="139.62" font-size="33.50" text-anchor="end" >60.0</text></g>
<g id="yt1" class="ft" transform="matrix(1.04475,0,0,1.12568,-3.998,-26.937)"><text x="115.70" y="224.42" font-size="33.50" text-anchor="end" >40.0</text></g>
<g id="yt2" class="ft" transform="matrix(1.04475,0,0,1.12568,-3.998,-37.684)"><text x="115.70" y="310.02" font-size="33.50" text-anchor="end" >20.0</text></g>
<g id="yt3" class="ft" transform="matrix(1.04475,0,0,1.12568,-3.998,-50.491)"><text x="115.70" y="413.92" font-size="33.50" text-anchor="end" >123.0</text></g>
<g id="yt4" class="ft" transform="matrix(1.04475,0,0,1.12568,-3.998,-63.666)"><text x="115.70" y="517.02" font-size="33.50" text-anchor="end" >93.0</text></g>
<g id="yt5" class="ft" transform="matrix(1.04475,0,0,1.12568,-3.998,-76.485)"><text x="115.70" y="618.32" font-size="33.50" text-anchor="end" >63.0</text></g>
<g id="yt6" class="ft" transform="matrix(1.04475,0,0,1.12568,-3.998,-84.731)"><text x="115.70" y="685.22" font-size="33.50" text-anchor="end" >55.0</text></g>
<g id="yt7" class="ft" transform="matrix(1.04475,0,0,1.12568,-3.998,-96.651)"><text x="115.70" y="776.82" font-size="33.50" text-anchor="end" >35.0</text></g>
<g id="yt8" class="ft" transform="matrix(1.04475,0,0,1.12568,-3.998,-107.733)"><text x="115.70" y="868.12" font-size="33.50" text-anchor="end" >15.0</text></g>
<g id="yt9" class="ft" transform="matrix(1.04475,0,0,1.12568,-3.998,-119.577)"><text x="115.70" y="958.62" font-size="33.50" text-anchor="end" >2.0</text></g>
<g id="yt10" class="ft" transform="matrix(1.04475,0,0,1.12568,-3.998,-134.880)"><text x="115.70" y="1084.12" font-size="33.50" text-anchor="end" >1.0</text></g>
<g id="yt11" class="ft" transform="matrix(1.04475,0,0,1.12568,-3.998,-150.630)"><text x="115.70" y="1205.82" font-size="33.50" text-anchor="end" >0.0</text></g>
<g id="yt12" class="ft" transform="matrix(1.04475,0,0,1.12568,-44.881,-16.342)"><text x="1027.60" y="137.72" font-size="33.50" text-anchor="end" >48.0</text></g>
<g id="yt13" class="ft" transform="matrix(1.04475,0,0,1.12568,-44.881,-26.353)"><text x="1027.60" y="220.02" font-size="33.50" text-anchor="end" >32.0</text></g>
<g id="yt14" class="ft" transform="matrix(1.04475,0,0,1.12568,-44.881,-36.721)"><text x="1027.60" y="303.22" font-size="33.50" text-anchor="end" >16.0</text></g>
<g id="yt15" class="ft" transform="matrix(1.04475,0,0,1.12568,-44.881,-47.701)"><text x="1027.60" y="386.62" font-size="33.50" text-anchor="end" >0.0</text></g>
<g id="yt16" class="ft" transform="matrix(1.04475,0,0,1.12568,-44.881,-51.913)"><text x="1027.60" y="420.62" font-size="33.50" text-anchor="end" >113.0</text></g>
<g id="yt17" class="ft" transform="matrix(1.04475,0,0,1.12568,-44.881,-61.983)"><text x="1027.60" y="504.22" font-size="33.50" text-anchor="end" >73.0</text></g>
<g id="yt18" class="ft" transform="matrix(1.04475,0,0,1.12568,-44.881,-72.924)"><text x="1027.60" y="587.82" font-size="33.50" text-anchor="end" >33.0</text></g>
<g id="yt19" class="ft" transform="matrix(1.04475,0,0,1.12568,-44.881,-83.904)"><text x="1027.60" y="678.62" font-size="33.50" text-anchor="end" >55.0</text></g>
<g id="yt20" class="ft" transform="matrix(1.04475,0,0,1.12568,-44.881,-95.272)"><text x="1027.60" y="768.12" font-size="33.50" text-anchor="end" >35.0</text></g>
<g id="yt21" class="ft" transform="matrix(1.04475,0,0,1.12568,-44.881,-106.329)"><text x="1027.60" y="857.62" font-size="33.50" text-anchor="end" >15.0</text></g>
<g id="yt22" class="ft" transform="matrix(1.04475,0,0,1.12568,-44.881,-118.099)"><text x="1027.60" y="949.32" font-size="33.50" text-anchor="end" >2.0</text></g>
<g id="yt23" class="ft" transform="matrix(1.04475,0,0,1.12568,-44.881,-133.671)"><text x="1027.60" y="1072.52" font-size="33.50" text-anchor="end" >1.0</text></g>
<g id="yt24" class="ft" transform="matrix(1.04475,0,0,1.12568,-44.881,-148.909)"><text x="1027.60" y="1194.32" font-size="33.50" text-anchor="end" >0.0</text></g>
<g id="xl0" class="ft" transform="matrix(0.98973,0,0,1.04914,0.800,-60.667)"><text x="157.90" y="1245.00" font-size="35.00" text-anchor="middle">10<tspan font-size="22.50" dy="-15.50">12</tspan></text></g>
<g id="xl1" class="ft" transform="matrix(0.98973,0,0,1.04914,1.599,-60.648)"><text x="246.65" y="1245.00" font-size="35.00" text-anchor="middle">10<tspan font-size="22.50" dy="-15.50">13</tspan></text></g>
<g id="xl2" class="ft" transform="matrix(0.98973,0,0,1.04914,2.385,-60.648)"><text x="335.40" y="1245.00" font-size="35.00" text-anchor="middle">10<tspan font-size="22.50" dy="-15.50">14</tspan></text></g>
<g id="xl3" class="ft" transform="matrix(0.98973,0,0,1.04914,3.422,-60.648)"><text x="424.15" y="1245.00" font-size="35.00" text-anchor="middle">10<tspan font-size="22.50" dy="-15.50">15</tspan></text></g>
<g id="xl4" class="ft" transform="matrix(0.98973,0,0,1.04914,4.217,-60.670)"><text x="512.90" y="1245.00" font-size="35.00" text-anchor="middle">10<tspan font-size="22.50" dy="-15.50">16</tspan></text></g>
<g id="xl5" class="ft" transform="matrix(0.98973,0,0,1.04914,5.081,-60.648)"><text x="601.65" y="1245.00" font-size="35.00" text-anchor="middle">10<tspan font-size="22.50" dy="-15.50">17</tspan></text></g>
<g id="xl6" class="ft" transform="matrix(0.98973,0,0,1.04914,6.121,-60.726)"><text x="690.40" y="1245.00" font-size="35.00" text-anchor="middle">10<tspan font-size="22.50" dy="-15.50">18</tspan></text></g>
<g id="xl7" class="ft" transform="matrix(0.98973,0,0,1.04914,7.032,-60.656)"><text x="779.15" y="1245.00" font-size="35.00" text-anchor="middle">10<tspan font-size="22.50" dy="-15.50">19</tspan></text></g>
<g id="xr0" class="ft" transform="matrix(0.98973,0,0,1.04914,10.862,-59.982)"><text x="1133.14" y="1232.50" font-size="35.00" text-anchor="middle">10<tspan font-size="22.50" dy="-15.50">11</tspan></text></g>
<g id="xr1" class="ft" transform="matrix(0.98973,0,0,1.04914,12.099,-59.972)"><text x="1272.02" y="1232.50" font-size="35.00" text-anchor="middle">10<tspan font-size="22.50" dy="-15.50">13</tspan></text></g>
<g id="xr2" class="ft" transform="matrix(0.98973,0,0,1.04914,13.470,-59.972)"><text x="1410.90" y="1232.50" font-size="35.00" text-anchor="middle">10<tspan font-size="22.50" dy="-15.50">15</tspan></text></g>
<g id="xr3" class="ft" transform="matrix(0.98973,0,0,1.04914,14.769,-59.972)"><text x="1549.78" y="1232.50" font-size="35.00" text-anchor="middle">10<tspan font-size="22.50" dy="-15.50">17</tspan></text></g>
<g id="xr4" class="ft" transform="matrix(0.98973,0,0,1.04914,16.437,-59.972)"><text x="1688.66" y="1232.50" font-size="35.00" text-anchor="middle">10<tspan font-size="22.50" dy="-15.50">19</tspan></text></g>
<g id="xtl" class="ft" transform="matrix(0.97784,0,0,1.08285,3.485,-102.263)"><text x="134.5" y="1289.5" font-size="38.50">Acceptor Density (cm<tspan font-size="28" dy="-17">-3</tspan><tspan dy="17">) in absorber layer</tspan></text></g>
<g id="xtr" class="ft" transform="matrix(1.05469,0,0,1.08285,-56.887,-103.830)"><text x="1043" y="1285.3" font-size="38.50">Defect density (cm<tspan font-size="28" dy="-17">-3</tspan><tspan dy="17">) in absorber layer</tspan></text></g>
<g id="ylE" class="ft" transform="matrix(0.92911,0,0,1.01609,1.201,-4.415)"><text transform="translate(35.50,244.00) rotate(-90)" x="0" y="0" font-size="42.00" text-anchor="middle">Efficiency (%)</text></g>
<g id="ylF" class="ft" transform="matrix(0.94147,0,0,1.02859,1.698,-16.211)"><text transform="translate(35.50,519.00) rotate(-90)" x="0" y="0" font-size="42.00" text-anchor="middle">FF (%)</text></g>
<g id="ylJ" class="ft" transform="matrix(0.94905,0,0,1.02411,1.289,-18.437)"><text transform="translate(35.50,784.50) rotate(-90)" x="0" y="0" font-size="42.00" text-anchor="middle">J<tspan font-size="29" dy="11">sc</tspan><tspan dy="-11"> (mA/cm</tspan><tspan font-size="27" dy="-18">2</tspan><tspan dy="18">)</tspan></text></g>
<g id="ylV" class="ft" transform="matrix(0.96209,0,0,1.01685,2.175,-17.974)"><text transform="translate(35.50,1050.00) rotate(-90)" x="0" y="0" font-size="42.00" text-anchor="middle">V<tspan font-size="29" dy="11">oc</tspan><tspan dy="-11"> (V)</tspan></text></g>
<g id="yrE" class="ft" transform="matrix(0.91829,0,0,1.01228,75.232,-3.357)"><text transform="translate(949.00,241.00) rotate(-90)" x="0" y="0" font-size="42.00" text-anchor="middle">Efficiency (%)</text></g>
<g id="yrF" class="ft" transform="matrix(0.90773,0,0,1.02358,86.541,-12.271)"><text transform="translate(949.00,512.50) rotate(-90)" x="0" y="0" font-size="42.00" text-anchor="middle">FF (%)</text></g>
<g id="yrJ" class="ft" transform="matrix(0.95572,0,0,1.01262,40.941,-11.787)"><text transform="translate(949.00,778.60) rotate(-90)" x="0" y="0" font-size="42.00" text-anchor="middle">J<tspan font-size="29" dy="11">sc</tspan><tspan dy="-11"> (mA/cm</tspan><tspan font-size="27" dy="-18">2</tspan><tspan dy="18">)</tspan></text></g>
<g id="yrV" class="ft" transform="matrix(0.96862,0,0,1.01686,29.041,-18.169)"><text transform="translate(949.00,1039.80) rotate(-90)" x="0" y="0" font-size="42.00" text-anchor="middle">V<tspan font-size="29" dy="11">oc</tspan><tspan dy="-11"> (V)</tspan></text></g>
<line x1="134.50" y1="82.50" x2="191.90" y2="82.50" stroke="#FF0000" stroke-width="5.1" stroke-linecap="round"/>
<ellipse cx="163.20" cy="82.30" rx="8.00" ry="9.40" fill="#FF0000"/>
<g id="lg1" class="ft" transform="matrix(0.99404,0,0,1.04055,0.444,-2.781)"><text x="204.50" y="90.80" font-size="23.00">Single Absorber (WS<tspan font-size="15" dy="4">2</tspan><tspan dy="-4">)</tspan></text></g>
<line x1="471.90" y1="82.50" x2="530.30" y2="82.50" stroke="#0000FF" stroke-width="5.1" stroke-linecap="round"/>
<polygon points="501.10,71.28 503.62,78.69 510.80,79.03 505.17,83.96 507.10,91.58 501.10,87.21 495.10,91.58 497.03,83.96 491.40,79.03 498.58,78.69" fill="#0000FF"/>
<g id="lg2" class="ft" transform="matrix(0.98652,0,0,1.10259,7.368,-8.514)"><text x="540.50" y="90.80" font-size="23.00">Dual Absorber (WS<tspan font-size="15" dy="4">2</tspan><tspan dy="-4">+CuO)</tspan></text></g>
<line x1="1053.10" y1="81.50" x2="1109.60" y2="81.50" stroke="#FF0000" stroke-width="5.1" stroke-linecap="round"/>
<ellipse cx="1080.90" cy="81.30" rx="8.00" ry="9.40" fill="#FF0000"/>
<g id="lg3" class="ft" transform="matrix(0.98176,0,0,1.07427,20.189,-5.452)"><text x="1121.20" y="89.80" font-size="23.00">Single Absorber (WS<tspan font-size="15" dy="4">2</tspan><tspan dy="-4">)</tspan></text></g>
<line x1="1380.20" y1="80.90" x2="1436.20" y2="80.90" stroke="#0000FF" stroke-width="5.1" stroke-linecap="round"/>
<polygon points="1408.20,70.58 1410.72,77.99 1417.90,78.33 1412.27,83.26 1414.20,90.88 1408.20,86.51 1402.20,90.88 1404.13,83.26 1398.50,78.33 1405.68,77.99" fill="#0000FF"/>
<g id="lg4" class="ft" transform="matrix(0.97796,0,0,1.03359,31.628,-1.538)"><text x="1448.40" y="89.20" font-size="23.00">Dual Absorber (WS<tspan font-size="15" dy="4">2</tspan><tspan dy="-4">+CuO)</tspan></text></g>
</g>
</svg>
</body></html>
